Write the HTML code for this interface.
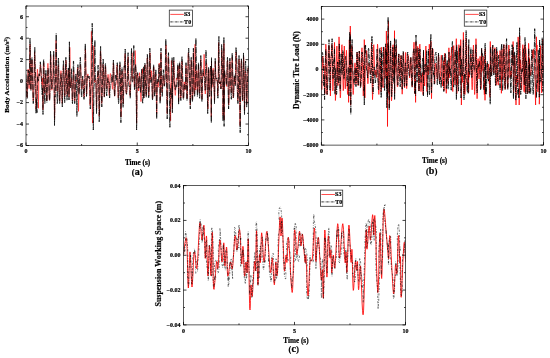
<!DOCTYPE html>
<html><head><meta charset="utf-8"><style>
html,body{margin:0;padding:0;background:#fff;}
svg{display:block;}
text{font-family:'Liberation Serif','Times New Roman',serif;font-weight:bold;fill:#000;}
</style></head><body>
<svg width="550" height="358" viewBox="0 0 550 358">
<rect width="550" height="358" fill="#fff"/>
<clipPath id="clipa"><rect x="26.0" y="6.0" width="222.5" height="139.5"/></clipPath>
<g clip-path="url(#clipa)" fill="none" stroke-linejoin="round">
<path d="M26.0 78.8 L26.1 82.1 L26.3 85.6 L26.4 89.0 L26.6 91.9 L26.7 94.3 L26.8 96.5 L27.0 97.4 L27.1 97.1 L27.3 95.6 L27.4 90.6 L27.5 85.0 L27.7 79.4 L27.8 74.1 L27.9 70.7 L28.1 69.2 L28.2 69.4 L28.4 71.5 L28.5 75.0 L28.6 79.4 L28.8 83.8 L28.9 87.1 L29.1 88.6 L29.2 87.5 L29.3 83.9 L29.5 76.7 L29.6 64.8 L29.8 56.3 L29.9 50.0 L30.0 44.2 L30.2 50.7 L30.3 59.2 L30.5 68.8 L30.6 78.8 L30.7 86.2 L30.9 89.6 L31.0 87.5 L31.1 84.2 L31.3 80.2 L31.4 74.8 L31.6 69.2 L31.7 64.3 L31.8 61.1 L32.0 60.1 L32.1 61.6 L32.3 65.5 L32.4 71.2 L32.5 78.0 L32.7 84.9 L32.8 91.1 L33.0 96.1 L33.1 99.5 L33.2 100.9 L33.4 100.4 L33.5 98.1 L33.7 94.5 L33.8 90.1 L33.9 85.4 L34.1 79.9 L34.2 71.0 L34.3 62.2 L34.5 56.2 L34.6 52.0 L34.8 57.1 L34.9 63.1 L35.0 69.3 L35.2 75.6 L35.3 78.8 L35.5 82.1 L35.6 88.3 L35.7 95.2 L35.9 102.1 L36.0 109.0 L36.2 106.8 L36.3 103.8 L36.4 99.4 L36.6 93.2 L36.7 88.5 L36.9 83.9 L37.0 78.8 L37.1 74.1 L37.3 70.7 L37.4 69.2 L37.5 69.9 L37.7 72.3 L37.8 77.5 L38.0 86.8 L38.1 95.3 L38.2 102.6 L38.4 108.3 L38.5 101.5 L38.7 93.8 L38.8 85.7 L38.9 77.9 L39.1 74.6 L39.2 73.9 L39.4 74.1 L39.5 74.8 L39.6 75.5 L39.8 75.3 L39.9 73.5 L40.1 70.9 L40.2 67.8 L40.3 64.5 L40.5 64.6 L40.6 65.2 L40.7 66.6 L40.9 69.1 L41.0 71.3 L41.2 73.8 L41.3 76.6 L41.4 79.4 L41.6 81.9 L41.7 83.6 L41.9 84.5 L42.0 84.6 L42.1 83.8 L42.3 82.3 L42.4 80.4 L42.6 78.1 L42.7 88.7 L42.8 99.2 L43.0 109.8 L43.1 94.7 L43.3 80.1 L43.4 66.2 L43.5 63.9 L43.7 62.7 L43.8 62.9 L44.0 69.4 L44.1 76.8 L44.2 84.5 L44.4 89.3 L44.5 92.9 L44.6 93.0 L44.8 92.5 L44.9 90.5 L45.1 87.1 L45.2 83.1 L45.3 78.9 L45.5 75.6 L45.6 74.2 L45.8 75.1 L45.9 78.4 L46.0 83.1 L46.2 88.3 L46.3 93.5 L46.5 97.8 L46.6 100.4 L46.7 100.9 L46.9 99.1 L47.0 95.2 L47.2 89.8 L47.3 83.6 L47.4 76.8 L47.6 70.5 L47.7 65.9 L47.8 63.5 L48.0 63.3 L48.1 65.3 L48.3 68.8 L48.4 73.5 L48.5 78.6 L48.7 83.4 L48.8 88.1 L49.0 92.7 L49.1 96.1 L49.2 98.6 L49.4 100.0 L49.5 100.3 L49.7 99.4 L49.8 97.2 L49.9 92.3 L50.1 83.3 L50.2 73.7 L50.4 64.1 L50.5 55.2 L50.6 56.5 L50.8 59.4 L50.9 64.3 L51.0 70.9 L51.2 75.7 L51.3 79.8 L51.5 83.9 L51.6 87.3 L51.7 89.4 L51.9 90.2 L52.0 89.5 L52.2 87.6 L52.3 84.9 L52.4 81.7 L52.6 78.4 L52.7 75.3 L52.9 72.6 L53.0 67.2 L53.1 62.5 L53.3 58.5 L53.4 55.2 L53.6 59.1 L53.7 63.8 L53.8 69.2 L54.0 75.1 L54.1 86.3 L54.2 97.6 L54.4 108.7 L54.5 119.3 L54.7 112.8 L54.8 105.4 L54.9 96.9 L55.1 87.3 L55.2 85.1 L55.4 82.3 L55.5 77.0 L55.6 66.8 L55.8 57.1 L55.9 48.2 L56.1 40.2 L56.2 48.1 L56.3 56.9 L56.5 66.5 L56.6 76.8 L56.8 82.4 L56.9 85.7 L57.0 88.6 L57.2 90.6 L57.3 91.3 L57.4 89.3 L57.6 86.6 L57.7 83.3 L57.9 78.9 L58.0 73.6 L58.1 68.9 L58.3 65.9 L58.4 65.1 L58.6 67.0 L58.7 71.4 L58.8 77.8 L59.0 84.5 L59.1 90.4 L59.3 95.6 L59.4 99.2 L59.5 100.9 L59.7 100.7 L59.8 98.7 L60.0 95.4 L60.1 91.2 L60.2 86.6 L60.4 82.2 L60.5 77.8 L60.6 74.1 L60.8 71.7 L60.9 70.7 L61.1 71.1 L61.2 72.7 L61.3 75.2 L61.5 78.4 L61.6 82.6 L61.8 88.5 L61.9 94.6 L62.0 99.5 L62.2 103.4 L62.3 100.5 L62.5 96.5 L62.6 91.4 L62.7 85.4 L62.9 80.7 L63.0 76.6 L63.2 72.6 L63.3 69.1 L63.4 66.5 L63.6 65.3 L63.7 68.1 L63.8 71.8 L64.0 74.7 L64.1 77.8 L64.3 81.7 L64.4 87.5 L64.5 92.5 L64.7 95.7 L64.8 96.6 L65.0 94.5 L65.1 89.6 L65.2 82.1 L65.4 76.1 L65.5 70.3 L65.7 65.2 L65.8 61.6 L65.9 60.1 L66.1 61.0 L66.2 64.1 L66.4 68.8 L66.5 74.5 L66.6 80.1 L66.8 87.2 L66.9 92.4 L67.0 94.5 L67.2 93.6 L67.3 90.0 L67.5 84.8 L67.6 79.6 L67.7 76.2 L67.9 73.6 L68.0 72.0 L68.2 70.6 L68.3 69.9 L68.4 73.7 L68.6 78.1 L68.7 85.6 L68.9 92.2 L69.0 97.3 L69.1 94.6 L69.3 90.5 L69.4 85.7 L69.6 72.3 L69.7 59.3 L69.8 47.3 L70.0 59.7 L70.1 73.0 L70.2 86.5 L70.4 87.1 L70.5 87.5 L70.7 87.4 L70.8 86.3 L70.9 84.4 L71.1 82.1 L71.2 79.7 L71.4 78.2 L71.5 78.2 L71.6 80.1 L71.8 83.4 L71.9 87.7 L72.1 92.4 L72.2 96.7 L72.3 99.8 L72.5 100.9 L72.6 99.9 L72.8 96.8 L72.9 91.9 L73.0 86.2 L73.2 80.5 L73.3 75.0 L73.4 71.3 L73.6 70.1 L73.7 71.4 L73.9 74.9 L74.0 79.9 L74.1 85.2 L74.3 90.3 L74.4 94.6 L74.6 98.7 L74.7 100.9 L74.8 100.9 L75.0 99.2 L75.1 96.3 L75.3 92.6 L75.4 88.8 L75.5 85.3 L75.7 82.5 L75.8 80.7 L76.0 79.9 L76.1 79.9 L76.2 80.5 L76.4 81.1 L76.5 81.4 L76.7 81.1 L76.8 79.8 L76.9 77.8 L77.1 75.3 L77.2 72.5 L77.3 70.0 L77.5 68.2 L77.6 67.4 L77.8 67.7 L77.9 71.3 L78.0 80.7 L78.2 90.7 L78.3 101.1 L78.5 111.4 L78.6 107.6 L78.7 102.9 L78.9 97.3 L79.0 90.6 L79.2 87.5 L79.3 85.6 L79.4 82.9 L79.6 79.6 L79.7 76.0 L79.9 72.5 L80.0 69.3 L80.1 66.7 L80.3 65.1 L80.4 64.7 L80.5 65.5 L80.7 67.5 L80.8 70.6 L81.0 74.4 L81.1 78.4 L81.2 82.3 L81.4 85.6 L81.5 87.9 L81.7 89.1 L81.8 89.1 L81.9 88.2 L82.1 86.5 L82.2 84.4 L82.4 82.4 L82.5 80.7 L82.6 79.5 L82.8 79.0 L82.9 79.4 L83.1 80.8 L83.2 82.8 L83.3 85.4 L83.5 88.4 L83.6 91.5 L83.7 94.3 L83.9 96.3 L84.0 97.2 L84.2 96.8 L84.3 94.9 L84.4 91.7 L84.6 87.5 L84.7 82.8 L84.9 76.0 L85.0 66.9 L85.1 59.1 L85.3 53.0 L85.4 48.8 L85.6 53.2 L85.7 59.0 L85.8 65.8 L86.0 73.0 L86.1 78.5 L86.3 83.6 L86.4 88.1 L86.5 91.7 L86.7 94.2 L86.8 92.0 L86.9 88.8 L87.1 85.0 L87.2 80.8 L87.4 77.9 L87.5 76.0 L87.6 74.6 L87.8 73.9 L87.9 74.0 L88.1 74.6 L88.2 75.5 L88.3 76.3 L88.5 76.8 L88.6 77.0 L88.8 77.0 L88.9 77.0 L89.0 77.3 L89.2 78.2 L89.3 79.8 L89.5 82.1 L89.6 85.8 L89.7 91.7 L89.9 97.2 L90.0 101.7 L90.1 105.1 L90.3 100.7 L90.4 95.3 L90.6 89.4 L90.7 83.4 L90.8 80.2 L91.0 66.5 L91.1 53.8 L91.3 42.2 L91.4 31.4 L91.5 45.9 L91.7 60.3 L91.8 74.2 L92.0 87.4 L92.1 97.5 L92.2 106.7 L92.4 115.2 L92.5 123.1 L92.7 110.4 L92.8 97.7 L92.9 85.3 L93.1 73.6 L93.2 72.8 L93.3 70.4 L93.5 63.6 L93.6 57.3 L93.8 51.5 L93.9 45.7 L94.0 54.9 L94.2 63.7 L94.3 72.2 L94.5 80.1 L94.6 82.5 L94.7 82.2 L94.9 81.6 L95.0 81.0 L95.2 80.3 L95.3 79.9 L95.4 79.7 L95.6 79.9 L95.7 80.4 L95.9 81.2 L96.0 83.9 L96.1 90.5 L96.3 97.0 L96.4 103.2 L96.5 109.0 L96.7 103.1 L96.8 96.7 L97.0 89.8 L97.1 82.5 L97.2 78.9 L97.4 77.0 L97.5 75.0 L97.7 73.3 L97.8 71.9 L97.9 71.1 L98.1 71.1 L98.2 72.1 L98.4 75.0 L98.5 78.6 L98.6 83.3 L98.8 91.6 L98.9 100.2 L99.1 108.6 L99.2 116.1 L99.3 114.1 L99.5 109.8 L99.6 101.6 L99.7 92.0 L99.9 84.9 L100.0 77.9 L100.2 68.6 L100.3 60.5 L100.4 54.5 L100.6 51.2 L100.7 55.5 L100.9 62.5 L101.0 71.5 L101.1 81.6 L101.3 89.4 L101.4 96.1 L101.6 100.9 L101.7 103.4 L101.8 102.3 L102.0 99.1 L102.1 94.5 L102.3 89.1 L102.4 84.1 L102.5 79.4 L102.7 74.7 L102.8 68.1 L102.9 65.4 L103.1 64.4 L103.2 65.2 L103.4 67.6 L103.5 71.5 L103.6 76.5 L103.8 81.7 L103.9 85.9 L104.1 91.9 L104.2 95.6 L104.3 96.6 L104.5 95.2 L104.6 91.6 L104.8 86.4 L104.9 80.5 L105.0 74.7 L105.2 69.9 L105.3 66.9 L105.5 66.0 L105.6 67.3 L105.7 70.0 L105.9 73.9 L106.0 78.0 L106.2 81.7 L106.3 84.9 L106.4 87.1 L106.6 88.4 L106.7 88.8 L106.8 88.4 L107.0 87.3 L107.1 85.6 L107.3 83.6 L107.4 81.3 L107.5 79.1 L107.7 77.0 L107.8 75.5 L108.0 74.5 L108.1 74.4 L108.2 75.0 L108.4 76.3 L108.5 78.2 L108.7 81.0 L108.8 85.4 L108.9 89.5 L109.1 92.9 L109.2 95.6 L109.4 92.8 L109.5 89.1 L109.6 84.9 L109.8 80.4 L109.9 77.5 L110.0 75.5 L110.2 74.2 L110.3 73.5 L110.5 73.7 L110.6 74.5 L110.7 75.8 L110.9 77.3 L111.0 78.7 L111.2 79.7 L111.3 80.4 L111.4 80.8 L111.6 81.1 L111.7 81.6 L111.9 82.6 L112.0 84.0 L112.1 85.8 L112.3 87.6 L112.4 88.9 L112.6 89.3 L112.7 88.4 L112.8 85.4 L113.0 79.9 L113.1 73.7 L113.2 67.8 L113.4 62.9 L113.5 64.1 L113.7 67.2 L113.8 72.3 L113.9 78.9 L114.1 84.6 L114.2 89.5 L114.4 93.3 L114.5 95.6 L114.6 96.1 L114.8 95.0 L114.9 92.7 L115.1 90.0 L115.2 87.4 L115.3 85.4 L115.5 84.4 L115.6 84.2 L115.8 84.5 L115.9 84.7 L116.0 84.4 L116.2 83.1 L116.3 80.6 L116.4 77.4 L116.6 73.6 L116.7 69.8 L116.9 66.7 L117.0 64.9 L117.1 64.9 L117.3 66.7 L117.4 70.4 L117.6 75.4 L117.7 81.1 L117.8 87.4 L118.0 92.7 L118.1 96.4 L118.3 98.1 L118.4 97.9 L118.5 95.9 L118.7 92.6 L118.8 88.7 L119.0 84.5 L119.1 80.8 L119.2 77.0 L119.4 72.8 L119.5 69.3 L119.6 66.6 L119.8 64.5 L119.9 66.4 L120.1 69.0 L120.2 72.1 L120.3 76.0 L120.5 81.2 L120.6 90.8 L120.8 100.3 L120.9 109.2 L121.0 116.9 L121.2 109.4 L121.3 101.4 L121.5 92.6 L121.6 82.9 L121.7 76.7 L121.9 73.2 L122.0 71.1 L122.2 71.1 L122.3 73.4 L122.4 77.7 L122.6 83.1 L122.7 88.6 L122.8 94.2 L123.0 99.0 L123.1 102.2 L123.3 103.6 L123.4 101.8 L123.5 98.1 L123.7 92.9 L123.8 86.8 L124.0 80.8 L124.1 74.1 L124.2 68.6 L124.4 64.9 L124.5 63.3 L124.7 62.0 L124.8 58.4 L124.9 56.2 L125.1 54.7 L125.2 53.5 L125.4 62.9 L125.5 71.4 L125.6 79.4 L125.8 87.2 L125.9 90.5 L126.0 91.8 L126.2 92.8 L126.3 93.4 L126.5 93.4 L126.6 92.6 L126.7 91.1 L126.9 88.7 L127.0 85.9 L127.2 83.0 L127.3 79.5 L127.4 74.0 L127.6 69.1 L127.7 63.6 L127.9 60.0 L128.0 57.9 L128.1 56.7 L128.3 62.9 L128.4 68.9 L128.6 74.2 L128.7 78.9 L128.8 80.5 L129.0 80.6 L129.1 80.7 L129.2 80.8 L129.4 81.2 L129.5 82.5 L129.7 86.0 L129.8 89.4 L129.9 92.7 L130.1 95.8 L130.2 92.7 L130.4 89.6 L130.5 86.3 L130.6 82.9 L130.8 81.5 L130.9 80.8 L131.1 80.0 L131.2 79.0 L131.3 77.8 L131.5 75.1 L131.6 69.1 L131.8 63.3 L131.9 57.8 L132.0 52.8 L132.2 57.8 L132.3 63.3 L132.4 69.0 L132.6 74.9 L132.7 77.4 L132.9 78.0 L133.0 78.2 L133.1 77.9 L133.3 77.3 L133.4 76.7 L133.6 76.5 L133.7 76.8 L133.8 78.0 L134.0 80.0 L134.1 82.4 L134.3 85.0 L134.4 87.0 L134.5 86.0 L134.7 79.1 L134.8 70.7 L135.0 61.0 L135.1 50.5 L135.2 52.5 L135.4 55.3 L135.5 59.5 L135.6 65.3 L135.8 68.6 L135.9 71.3 L136.1 74.8 L136.2 78.4 L136.3 94.5 L136.5 109.6 L136.6 123.1 L136.8 109.0 L136.9 93.5 L137.0 77.6 L137.2 75.4 L137.3 74.0 L137.5 73.9 L137.6 75.1 L137.7 76.0 L137.9 77.5 L138.0 79.5 L138.2 82.0 L138.3 86.4 L138.4 89.6 L138.6 91.0 L138.7 90.3 L138.9 87.3 L139.0 82.6 L139.1 79.1 L139.3 76.4 L139.4 74.1 L139.5 72.8 L139.7 72.7 L139.8 74.0 L140.0 76.4 L140.1 79.5 L140.2 84.6 L140.4 90.2 L140.5 94.2 L140.7 97.2 L140.8 100.5 L140.9 101.6 L141.1 101.1 L141.2 99.7 L141.4 91.5 L141.5 84.9 L141.6 78.6 L141.8 72.7 L141.9 70.5 L142.1 70.4 L142.2 71.4 L142.3 73.4 L142.5 71.4 L142.6 69.8 L142.7 69.0 L142.9 68.4 L143.0 76.6 L143.2 83.6 L143.3 89.5 L143.4 94.3 L143.6 96.4 L143.7 97.7 L143.9 96.5 L144.0 95.8 L144.1 90.8 L144.3 85.5 L144.4 79.4 L144.6 72.9 L144.7 69.4 L144.8 66.5 L145.0 64.8 L145.1 64.9 L145.3 70.0 L145.4 75.3 L145.5 80.1 L145.7 84.4 L145.8 88.4 L145.9 92.0 L146.1 94.4 L146.2 95.3 L146.4 94.5 L146.5 92.0 L146.6 87.8 L146.8 82.0 L146.9 74.7 L147.1 66.6 L147.2 59.8 L147.3 57.5 L147.5 57.4 L147.6 59.8 L147.8 64.2 L147.9 69.5 L148.0 75.5 L148.2 81.5 L148.3 85.7 L148.5 91.1 L148.6 94.3 L148.7 95.8 L148.9 95.6 L149.0 93.9 L149.1 90.9 L149.3 87.3 L149.4 82.2 L149.6 74.4 L149.7 66.2 L149.8 57.7 L150.0 52.8 L150.1 57.9 L150.3 64.3 L150.4 71.0 L150.5 77.4 L150.7 79.8 L150.8 79.4 L151.0 77.8 L151.1 75.3 L151.2 72.7 L151.4 70.9 L151.5 70.7 L151.7 73.2 L151.8 77.7 L151.9 82.4 L152.1 86.6 L152.2 91.0 L152.3 94.8 L152.5 97.3 L152.6 98.4 L152.8 97.1 L152.9 93.5 L153.0 88.0 L153.2 81.2 L153.3 75.0 L153.5 70.3 L153.6 67.7 L153.7 66.8 L153.9 68.4 L154.0 71.6 L154.2 76.0 L154.3 80.5 L154.4 85.1 L154.6 88.2 L154.7 90.5 L154.9 92.2 L155.0 89.1 L155.1 84.6 L155.3 80.2 L155.4 77.6 L155.5 75.8 L155.7 75.0 L155.8 74.7 L156.0 74.3 L156.1 78.5 L156.2 88.2 L156.4 97.6 L156.5 106.2 L156.7 113.7 L156.8 107.1 L156.9 99.8 L157.1 92.1 L157.2 84.4 L157.4 81.7 L157.5 81.7 L157.6 82.6 L157.8 84.0 L157.9 85.6 L158.1 86.9 L158.2 87.3 L158.3 86.1 L158.5 82.6 L158.6 77.9 L158.7 72.5 L158.9 66.8 L159.0 64.4 L159.2 63.2 L159.3 63.5 L159.4 65.3 L159.6 67.7 L159.7 70.4 L159.9 73.5 L160.0 80.5 L160.1 91.0 L160.3 100.4 L160.4 91.2 L160.6 81.2 L160.7 71.2 L160.8 61.7 L161.0 52.8 L161.1 61.1 L161.3 70.6 L161.4 77.3 L161.5 80.7 L161.7 84.5 L161.8 88.0 L161.9 90.8 L162.1 92.4 L162.2 92.4 L162.4 91.0 L162.5 88.4 L162.6 85.0 L162.8 81.5 L162.9 78.4 L163.1 76.2 L163.2 75.4 L163.3 75.8 L163.5 77.4 L163.6 79.7 L163.8 82.1 L163.9 84.1 L164.0 85.4 L164.2 85.8 L164.3 85.3 L164.5 84.2 L164.6 82.8 L164.7 81.3 L164.9 80.1 L165.0 79.2 L165.1 78.4 L165.3 77.7 L165.4 74.8 L165.6 67.2 L165.7 59.6 L165.8 52.0 L166.0 44.9 L166.1 51.4 L166.3 59.0 L166.4 67.8 L166.5 77.6 L166.7 83.5 L166.8 92.7 L167.0 101.1 L167.1 108.2 L167.2 113.7 L167.4 106.6 L167.5 98.0 L167.7 88.4 L167.8 78.3 L167.9 71.0 L168.1 64.8 L168.2 59.9 L168.3 56.7 L168.5 60.7 L168.6 65.7 L168.8 71.4 L168.9 77.1 L169.0 79.5 L169.2 81.2 L169.3 82.2 L169.5 82.6 L169.6 82.7 L169.7 82.8 L169.9 83.1 L170.0 83.8 L170.2 84.7 L170.3 97.1 L170.4 109.2 L170.6 120.8 L170.7 109.0 L170.9 96.6 L171.0 83.9 L171.1 75.4 L171.3 67.5 L171.4 60.6 L171.6 69.8 L171.7 79.9 L171.8 90.7 L172.0 95.4 L172.1 100.9 L172.2 105.3 L172.4 108.3 L172.5 104.7 L172.7 99.8 L172.8 94.2 L172.9 89.4 L173.1 86.2 L173.2 82.1 L173.4 75.7 L173.5 70.1 L173.6 65.1 L173.8 60.6 L173.9 65.5 L174.1 70.7 L174.2 76.1 L174.3 81.9 L174.5 84.9 L174.6 86.9 L174.8 89.2 L174.9 91.5 L175.0 93.6 L175.2 95.0 L175.3 95.4 L175.4 94.7 L175.6 92.9 L175.7 90.2 L175.9 87.0 L176.0 83.8 L176.1 81.1 L176.3 79.1 L176.4 78.2 L176.6 78.2 L176.7 78.7 L176.8 79.3 L177.0 79.5 L177.1 78.9 L177.3 78.2 L177.4 77.4 L177.5 76.3 L177.7 73.3 L177.8 69.3 L178.0 66.0 L178.1 69.9 L178.2 74.3 L178.4 81.9 L178.5 92.0 L178.6 101.2 L178.8 91.3 L178.9 80.1 L179.1 72.5 L179.2 69.0 L179.3 66.0 L179.5 64.3 L179.6 64.5 L179.8 66.9 L179.9 71.4 L180.0 77.5 L180.2 84.1 L180.3 90.0 L180.5 94.7 L180.6 97.6 L180.7 98.4 L180.9 97.1 L181.0 94.0 L181.2 89.6 L181.3 84.3 L181.4 78.3 L181.6 71.9 L181.7 65.0 L181.8 61.4 L182.0 61.2 L182.1 63.2 L182.3 67.1 L182.4 72.5 L182.5 78.4 L182.7 83.3 L182.8 87.4 L183.0 92.4 L183.1 95.3 L183.2 97.5 L183.4 98.1 L183.5 97.4 L183.7 95.8 L183.8 91.6 L183.9 87.6 L184.1 84.3 L184.2 82.0 L184.4 81.8 L184.5 82.9 L184.6 84.9 L184.8 87.2 L184.9 89.1 L185.0 90.1 L185.2 89.7 L185.3 88.0 L185.5 84.8 L185.6 79.1 L185.7 72.3 L185.9 66.8 L186.0 65.3 L186.2 69.4 L186.3 73.6 L186.4 78.0 L186.6 84.2 L186.7 90.3 L186.9 95.0 L187.0 98.0 L187.1 98.5 L187.3 96.4 L187.4 91.9 L187.6 85.7 L187.7 79.0 L187.8 72.5 L188.0 65.6 L188.1 59.9 L188.2 55.6 L188.4 52.8 L188.5 54.8 L188.7 58.0 L188.8 62.0 L188.9 66.5 L189.1 70.0 L189.2 72.9 L189.4 75.6 L189.5 78.1 L189.6 80.1 L189.8 83.8 L189.9 90.7 L190.1 96.7 L190.2 101.6 L190.3 105.1 L190.5 97.0 L190.6 87.6 L190.8 77.8 L190.9 68.1 L191.0 62.7 L191.2 60.5 L191.3 60.1 L191.4 62.1 L191.6 66.1 L191.7 72.0 L191.9 78.7 L192.0 86.5 L192.1 93.4 L192.3 97.8 L192.4 99.5 L192.6 98.5 L192.7 95.4 L192.8 91.0 L193.0 86.5 L193.1 73.7 L193.3 62.4 L193.4 52.8 L193.5 63.2 L193.7 74.8 L193.8 87.0 L194.0 90.2 L194.1 92.8 L194.2 94.2 L194.4 93.9 L194.5 93.1 L194.6 91.5 L194.8 75.4 L194.9 59.5 L195.1 44.2 L195.2 58.9 L195.3 74.1 L195.5 89.6 L195.6 90.1 L195.8 89.8 L195.9 88.5 L196.0 86.0 L196.2 82.7 L196.3 78.3 L196.5 73.9 L196.6 71.2 L196.7 70.6 L196.9 72.5 L197.0 76.3 L197.2 81.3 L197.3 86.4 L197.4 90.4 L197.6 92.5 L197.7 92.2 L197.8 89.2 L198.0 83.5 L198.1 76.9 L198.3 70.5 L198.4 65.3 L198.5 67.3 L198.7 70.3 L198.8 73.7 L199.0 77.8 L199.1 81.8 L199.2 86.7 L199.4 90.7 L199.5 93.0 L199.7 93.1 L199.8 90.9 L199.9 86.5 L200.1 80.7 L200.2 75.4 L200.4 69.7 L200.5 64.6 L200.6 60.9 L200.8 59.1 L200.9 60.2 L201.1 63.4 L201.2 68.4 L201.3 74.5 L201.5 80.9 L201.6 88.2 L201.7 94.0 L201.9 97.6 L202.0 98.9 L202.2 95.2 L202.3 90.0 L202.4 84.3 L202.6 79.2 L202.7 76.0 L202.9 74.1 L203.0 72.7 L203.1 73.3 L203.3 74.5 L203.4 75.7 L203.6 75.1 L203.7 70.5 L203.8 65.3 L204.0 59.7 L204.1 54.3 L204.3 59.1 L204.4 64.9 L204.5 71.9 L204.7 80.0 L204.8 85.5 L204.9 89.3 L205.1 92.4 L205.2 94.0 L205.4 93.9 L205.5 92.0 L205.6 88.4 L205.8 83.6 L205.9 78.2 L206.1 72.9 L206.2 68.3 L206.3 64.9 L206.5 63.2 L206.6 63.5 L206.8 65.8 L206.9 69.9 L207.0 75.4 L207.2 81.7 L207.3 88.0 L207.5 93.6 L207.6 100.7 L207.7 105.9 L207.9 109.0 L208.0 104.7 L208.1 99.0 L208.3 92.8 L208.4 84.0 L208.6 76.0 L208.7 69.2 L208.8 74.9 L209.0 81.5 L209.1 88.5 L209.3 89.7 L209.4 90.2 L209.5 89.6 L209.7 87.6 L209.8 84.6 L210.0 80.7 L210.1 76.7 L210.2 72.9 L210.4 69.9 L210.5 68.1 L210.7 67.4 L210.8 67.9 L210.9 69.4 L211.1 71.7 L211.2 74.8 L211.3 116.9 L211.5 61.0 L211.6 83.0 L211.8 85.5 L211.9 87.0 L212.0 87.3 L212.2 86.4 L212.3 84.2 L212.5 80.9 L212.6 77.0 L212.7 73.2 L212.9 70.1 L213.0 68.4 L213.2 68.3 L213.3 70.0 L213.4 73.2 L213.6 77.2 L213.7 81.5 L213.9 85.4 L214.0 88.3 L214.1 89.8 L214.3 94.5 L214.4 98.0 L214.5 100.4 L214.7 93.1 L214.8 85.5 L215.0 78.3 L215.1 71.8 L215.2 66.2 L215.4 61.4 L215.5 66.0 L215.7 71.2 L215.8 76.8 L215.9 78.2 L216.1 79.4 L216.2 80.3 L216.4 80.8 L216.5 80.9 L216.6 80.8 L216.8 80.7 L216.9 80.6 L217.1 80.6 L217.2 80.9 L217.3 81.3 L217.5 86.3 L217.6 91.2 L217.7 95.8 L217.9 90.9 L218.0 85.7 L218.2 80.2 L218.3 67.5 L218.4 54.9 L218.6 42.6 L218.7 54.6 L218.9 67.1 L219.0 79.9 L219.1 81.1 L219.3 82.3 L219.4 83.1 L219.6 83.4 L219.7 83.2 L219.8 82.7 L220.0 82.0 L220.1 81.4 L220.3 81.3 L220.4 81.9 L220.5 83.2 L220.7 85.1 L220.8 87.1 L220.9 88.9 L221.1 87.6 L221.2 80.3 L221.4 71.5 L221.5 61.1 L221.6 49.6 L221.8 51.4 L221.9 53.4 L222.1 56.3 L222.2 61.0 L222.3 63.0 L222.5 65.3 L222.6 69.7 L222.8 84.7 L222.9 100.3 L223.0 115.4 L223.2 111.0 L223.3 104.5 L223.5 95.5 L223.6 93.4 L223.7 89.0 L223.9 43.4 L224.0 79.6 L224.1 120.0 L224.3 73.0 L224.4 71.2 L224.6 71.2 L224.7 72.1 L224.8 73.3 L225.0 74.4 L225.1 74.9 L225.3 75.0 L225.4 75.4 L225.5 75.9 L225.7 76.3 L225.8 77.5 L226.0 79.4 L226.1 81.8 L226.2 84.5 L226.4 86.2 L226.5 86.4 L226.7 84.4 L226.8 80.4 L226.9 75.8 L227.1 70.5 L227.2 65.6 L227.3 61.9 L227.5 60.1 L227.6 60.8 L227.8 63.7 L227.9 68.4 L228.0 74.2 L228.2 80.8 L228.3 89.5 L228.5 96.7 L228.6 101.9 L228.7 105.1 L228.9 101.3 L229.0 96.4 L229.2 90.8 L229.3 85.1 L229.4 80.5 L229.6 75.6 L229.7 70.4 L229.9 65.5 L230.0 61.4 L230.1 63.6 L230.3 66.6 L230.4 70.7 L230.5 75.8 L230.7 79.9 L230.8 83.7 L231.0 87.5 L231.1 90.6 L231.2 92.4 L231.4 92.4 L231.5 90.5 L231.7 84.7 L231.8 75.7 L231.9 66.3 L232.1 57.4 L232.2 58.4 L232.4 61.4 L232.5 66.9 L232.6 73.3 L232.8 80.1 L232.9 87.3 L233.1 94.2 L233.2 97.1 L233.3 97.7 L233.5 96.1 L233.6 93.1 L233.8 89.6 L233.9 85.4 L234.0 81.5 L234.2 78.7 L234.3 77.3 L234.4 77.5 L234.6 78.9 L234.7 80.9 L234.9 82.9 L235.0 84.3 L235.1 84.4 L235.3 83.3 L235.4 79.8 L235.6 73.1 L235.7 65.9 L235.8 58.7 L236.0 52.0 L236.1 52.9 L236.3 54.9 L236.4 58.3 L236.5 63.2 L236.7 67.2 L236.8 71.4 L237.0 76.6 L237.1 82.2 L237.2 87.7 L237.4 92.7 L237.5 96.8 L237.6 99.6 L237.8 100.9 L237.9 100.7 L238.1 99.1 L238.2 96.4 L238.3 93.2 L238.5 89.9 L238.6 83.5 L238.8 74.3 L238.9 66.1 L239.0 59.1 L239.2 67.0 L239.3 75.8 L239.5 85.1 L239.6 95.2 L239.7 105.6 L239.9 115.7 L240.0 125.5 L240.2 116.6 L240.3 106.5 L240.4 94.7 L240.6 85.5 L240.7 80.9 L240.8 75.0 L241.0 69.3 L241.1 64.5 L241.3 61.3 L241.4 60.4 L241.5 62.0 L241.7 66.1 L241.8 72.5 L242.0 80.2 L242.1 87.3 L242.2 93.6 L242.4 98.4 L242.5 100.9 L242.7 100.9 L242.8 98.5 L242.9 94.2 L243.1 88.8 L243.2 81.0 L243.4 71.4 L243.5 63.0 L243.6 56.7 L243.8 61.0 L243.9 67.1 L244.0 74.4 L244.2 83.5 L244.3 93.4 L244.5 102.3 L244.6 109.8 L244.7 101.6 L244.9 91.8 L245.0 81.4 L245.2 74.8 L245.3 72.4 L245.4 71.1 L245.6 71.0 L245.7 71.9 L245.9 73.6 L246.0 75.7 L246.1 77.9 L246.3 81.2 L246.4 87.5 L246.6 93.2 L246.7 98.6 L246.8 103.6 L247.0 98.8 L247.1 93.6 L247.2 88.1 L247.4 82.1 L247.5 79.2 L247.7 77.0 L247.8 74.0 L247.9 71.3 L248.1 69.1 L248.2 67.7 L248.4 69.9 L248.5 73.0" stroke="#ff0000" stroke-width="0.6"/>
<path d="M26.0 74.4 L26.1 78.4 L26.3 82.6 L26.4 86.3 L26.6 90.0 L26.7 93.4 L26.8 96.4 L27.0 98.2 L27.1 98.8 L27.3 98.0 L27.4 94.7 L27.5 90.6 L27.7 85.9 L27.8 81.1 L27.9 75.7 L28.1 71.9 L28.2 70.0 L28.4 70.2 L28.5 72.4 L28.6 76.1 L28.8 80.2 L28.9 83.1 L29.1 84.6 L29.2 84.6 L29.3 82.1 L29.5 74.9 L29.6 62.2 L29.8 52.2 L29.9 44.9 L30.0 38.2 L30.2 45.8 L30.3 55.6 L30.5 66.9 L30.6 78.5 L30.7 86.8 L30.9 90.5 L31.0 90.6 L31.1 85.8 L31.3 80.1 L31.4 73.8 L31.6 67.3 L31.7 61.8 L31.8 58.3 L32.0 57.3 L32.1 59.1 L32.3 63.3 L32.4 69.3 L32.5 76.4 L32.7 84.1 L32.8 91.8 L33.0 97.9 L33.1 101.9 L33.2 103.6 L33.4 103.2 L33.5 101.0 L33.7 97.4 L33.8 93.1 L33.9 88.6 L34.1 84.7 L34.2 79.4 L34.3 70.1 L34.5 61.8 L34.6 54.4 L34.8 47.3 L34.9 53.6 L35.0 59.5 L35.2 65.1 L35.3 70.6 L35.5 71.9 L35.6 76.8 L35.7 87.6 L35.9 100.0 L36.0 113.6 L36.2 109.2 L36.3 104.5 L36.4 98.6 L36.6 99.0 L36.7 105.4 L36.9 109.7 L37.0 112.7 L37.1 101.3 L37.3 90.3 L37.4 80.6 L37.5 75.9 L37.7 76.2 L37.8 77.5 L38.0 79.2 L38.1 80.6 L38.2 81.1 L38.4 80.7 L38.5 79.5 L38.7 77.7 L38.8 75.9 L38.9 74.5 L39.1 73.8 L39.2 73.7 L39.4 74.3 L39.5 75.1 L39.6 75.9 L39.8 75.6 L39.9 72.9 L40.1 69.6 L40.2 65.9 L40.3 61.8 L40.5 63.1 L40.6 64.4 L40.7 66.1 L40.9 68.5 L41.0 69.8 L41.2 72.2 L41.3 76.0 L41.4 78.8 L41.6 81.7 L41.7 86.1 L41.9 90.2 L42.0 93.2 L42.1 94.8 L42.3 94.5 L42.4 92.3 L42.6 88.0 L42.7 96.0 L42.8 105.1 L43.0 114.5 L43.1 96.5 L43.3 79.2 L43.4 62.9 L43.5 60.3 L43.7 59.3 L43.8 60.0 L44.0 65.6 L44.1 72.4 L44.2 79.8 L44.4 88.2 L44.5 95.9 L44.6 101.3 L44.8 103.6 L44.9 102.8 L45.1 99.0 L45.2 93.1 L45.3 86.0 L45.5 79.8 L45.6 75.8 L45.8 72.3 L45.9 70.2 L46.0 72.8 L46.2 77.7 L46.3 84.1 L46.5 90.7 L46.6 96.5 L46.7 100.4 L46.9 102.3 L47.0 101.0 L47.2 97.3 L47.3 91.7 L47.4 85.3 L47.6 79.0 L47.7 73.6 L47.8 69.9 L48.0 68.1 L48.1 68.1 L48.3 69.7 L48.4 72.3 L48.5 75.7 L48.7 79.4 L48.8 83.3 L49.0 87.2 L49.1 91.0 L49.2 94.6 L49.4 97.7 L49.5 99.8 L49.7 100.4 L49.8 99.2 L49.9 94.5 L50.1 84.6 L50.2 73.4 L50.4 61.9 L50.5 51.0 L50.6 51.8 L50.8 54.8 L50.9 60.1 L51.0 67.6 L51.2 73.1 L51.3 77.8 L51.5 82.2 L51.6 85.8 L51.7 88.1 L51.9 88.8 L52.0 88.2 L52.2 86.8 L52.3 84.9 L52.4 83.0 L52.6 81.5 L52.7 80.4 L52.9 79.7 L53.0 79.0 L53.1 78.3 L53.3 77.1 L53.4 68.6 L53.6 59.8 L53.7 51.0 L53.8 56.4 L54.0 62.8 L54.1 70.6 L54.2 87.5 L54.4 106.0 L54.5 125.5 L54.7 116.3 L54.8 106.7 L54.9 95.7 L55.1 97.1 L55.2 95.9 L55.4 91.8 L55.5 86.1 L55.6 77.1 L55.8 63.8 L55.9 51.5 L56.1 41.1 L56.2 33.6 L56.3 40.9 L56.5 51.1 L56.6 63.8 L56.8 78.0 L56.9 88.3 L57.0 95.8 L57.2 101.2 L57.3 103.6 L57.4 102.7 L57.6 96.8 L57.7 90.5 L57.9 82.5 L58.0 73.5 L58.1 65.4 L58.3 60.0 L58.4 58.0 L58.6 59.9 L58.7 65.3 L58.8 73.3 L59.0 82.3 L59.1 90.3 L59.3 97.0 L59.4 101.5 L59.5 103.6 L59.7 103.4 L59.8 101.2 L60.0 97.8 L60.1 93.7 L60.2 89.4 L60.4 85.5 L60.5 81.9 L60.6 78.7 L60.8 76.1 L60.9 74.4 L61.1 73.6 L61.2 73.8 L61.3 75.2 L61.5 77.6 L61.6 80.9 L61.8 85.7 L61.9 92.5 L62.0 98.7 L62.2 103.7 L62.3 107.0 L62.5 102.1 L62.6 95.5 L62.7 87.5 L62.9 78.7 L63.0 72.0 L63.2 66.8 L63.3 62.8 L63.4 60.7 L63.6 63.1 L63.7 69.1 L63.8 73.3 L64.0 77.0 L64.1 81.4 L64.3 89.1 L64.4 95.8 L64.5 100.6 L64.7 102.6 L64.8 101.1 L65.0 96.0 L65.1 87.9 L65.2 78.9 L65.4 72.2 L65.5 65.9 L65.7 60.9 L65.8 57.9 L65.9 57.3 L66.1 59.3 L66.2 63.4 L66.4 69.1 L66.5 75.5 L66.6 82.0 L66.8 90.7 L66.9 97.3 L67.0 100.2 L67.2 99.9 L67.3 96.8 L67.5 91.9 L67.6 86.0 L67.7 80.5 L67.9 77.4 L68.0 74.6 L68.2 71.4 L68.3 68.0 L68.4 69.0 L68.6 71.0 L68.7 73.2 L68.9 83.0 L69.0 100.0 L69.1 84.6 L69.3 65.0 L69.4 41.8 L69.6 65.0 L69.7 77.7 L69.8 80.0 L70.0 83.4 L70.1 87.1 L70.2 87.9 L70.4 88.3 L70.5 88.3 L70.7 87.2 L70.8 84.6 L70.9 81.2 L71.1 75.6 L71.2 71.0 L71.4 68.8 L71.5 69.8 L71.6 74.3 L71.8 81.5 L71.9 87.8 L72.1 94.3 L72.2 99.7 L72.3 103.0 L72.5 103.6 L72.6 101.3 L72.8 96.4 L72.9 89.7 L73.0 82.3 L73.2 72.9 L73.3 65.3 L73.4 61.2 L73.6 61.1 L73.7 64.7 L73.9 71.5 L74.0 80.0 L74.1 86.5 L74.3 92.2 L74.4 96.7 L74.6 101.6 L74.7 103.6 L74.8 102.5 L75.0 99.4 L75.1 94.9 L75.3 89.7 L75.4 84.5 L75.5 79.7 L75.7 75.6 L75.8 73.6 L76.0 73.8 L76.1 75.9 L76.2 79.5 L76.4 84.9 L76.5 94.1 L76.7 102.3 L76.8 109.7 L76.9 116.4 L77.1 107.8 L77.2 97.4 L77.3 86.2 L77.5 74.9 L77.6 68.6 L77.8 65.6 L77.9 64.6 L78.0 65.7 L78.2 68.7 L78.3 73.3 L78.5 78.8 L78.6 84.3 L78.7 89.2 L78.9 92.8 L79.0 94.5 L79.2 94.1 L79.3 91.6 L79.4 87.2 L79.6 81.4 L79.7 74.9 L79.9 68.5 L80.0 63.0 L80.1 59.1 L80.3 57.3 L80.4 57.9 L80.5 60.9 L80.7 65.9 L80.8 72.3 L81.0 79.3 L81.1 86.0 L81.2 91.5 L81.4 95.4 L81.5 97.2 L81.7 96.8 L81.8 94.7 L81.9 91.3 L82.1 87.2 L82.2 83.2 L82.4 79.7 L82.5 77.3 L82.6 76.1 L82.8 76.3 L82.9 77.8 L83.1 80.5 L83.2 83.7 L83.3 87.3 L83.5 91.0 L83.6 94.4 L83.7 97.2 L83.9 99.0 L84.0 99.4 L84.2 98.4 L84.3 95.7 L84.4 91.6 L84.6 86.5 L84.7 79.7 L84.9 68.5 L85.0 58.3 L85.1 49.8 L85.3 43.6 L85.4 47.9 L85.6 54.4 L85.7 62.5 L85.8 71.3 L86.0 78.1 L86.1 84.3 L86.3 89.1 L86.4 93.7 L86.5 96.4 L86.7 93.3 L86.8 89.5 L86.9 85.2 L87.1 80.9 L87.2 78.3 L87.4 76.8 L87.5 75.8 L87.6 75.4 L87.8 75.5 L87.9 76.0 L88.1 76.8 L88.2 77.5 L88.3 77.9 L88.5 78.0 L88.6 77.6 L88.8 77.0 L88.9 76.3 L89.0 76.0 L89.2 76.3 L89.3 77.6 L89.5 79.7 L89.6 82.7 L89.7 87.1 L89.9 93.8 L90.0 99.9 L90.1 105.0 L90.3 109.0 L90.4 104.7 L90.6 99.7 L90.7 94.3 L90.8 88.9 L91.0 86.4 L91.1 85.3 L91.3 84.5 L91.4 83.9 L91.5 83.0 L91.7 81.8 L91.8 67.6 L92.0 53.0 L92.1 38.2 L92.2 23.3 L92.4 33.5 L92.5 44.4 L92.7 56.2 L92.8 69.2 L92.9 83.4 L93.1 98.5 L93.2 114.1 L93.3 130.0 L93.5 120.7 L93.6 110.6 L93.8 99.7 L93.9 87.5 L94.0 86.7 L94.2 84.9 L94.3 79.9 L94.5 69.2 L94.6 58.7 L94.7 48.9 L94.9 40.0 L95.0 48.4 L95.2 57.7 L95.3 67.5 L95.4 77.5 L95.6 81.9 L95.7 83.5 L95.9 84.7 L96.0 87.5 L96.1 94.3 L96.3 100.9 L96.4 107.3 L96.5 113.6 L96.7 107.4 L96.8 100.8 L97.0 93.8 L97.1 86.1 L97.2 81.8 L97.4 79.1 L97.5 75.8 L97.7 72.4 L97.8 69.1 L97.9 66.5 L98.1 65.1 L98.2 65.2 L98.4 70.7 L98.5 75.3 L98.6 80.6 L98.8 90.4 L98.9 101.3 L99.1 112.1 L99.2 121.8 L99.3 119.7 L99.5 115.0 L99.6 107.3 L99.7 94.5 L99.9 85.8 L100.0 77.0 L100.2 66.8 L100.3 57.7 L100.4 50.6 L100.6 46.4 L100.7 50.4 L100.9 57.3 L101.0 66.6 L101.1 77.1 L101.3 86.7 L101.4 95.3 L101.6 101.9 L101.7 105.8 L101.8 107.0 L102.0 104.1 L102.1 99.3 L102.3 93.2 L102.4 86.6 L102.5 80.7 L102.7 75.8 L102.8 69.7 L102.9 61.2 L103.1 59.0 L103.2 59.1 L103.4 61.5 L103.5 66.0 L103.6 72.0 L103.8 79.0 L103.9 84.1 L104.1 89.6 L104.2 95.7 L104.3 97.1 L104.5 95.6 L104.6 91.4 L104.8 85.2 L104.9 78.5 L105.0 72.8 L105.2 68.3 L105.3 64.1 L105.5 63.6 L105.6 65.6 L105.7 69.3 L105.9 74.1 L106.0 79.1 L106.2 84.5 L106.3 89.5 L106.4 93.2 L106.6 95.3 L106.7 95.9 L106.8 95.0 L107.0 92.9 L107.1 90.0 L107.3 86.7 L107.4 83.4 L107.5 80.7 L107.7 78.7 L107.8 77.8 L108.0 77.8 L108.1 78.6 L108.2 79.8 L108.4 81.0 L108.5 81.9 L108.7 82.3 L108.8 82.3 L108.9 81.9 L109.1 82.5 L109.2 85.8 L109.4 89.5 L109.5 93.6 L109.6 98.0 L109.8 95.4 L109.9 92.8 L110.0 90.0 L110.2 86.9 L110.3 85.8 L110.5 85.7 L110.6 85.2 L110.7 84.7 L110.9 83.9 L111.0 82.9 L111.2 81.6 L111.3 80.1 L111.4 78.4 L111.6 76.7 L111.7 75.4 L111.9 74.7 L112.0 74.8 L112.1 75.9 L112.3 77.6 L112.4 79.7 L112.6 81.4 L112.7 82.4 L112.8 81.3 L113.0 76.8 L113.1 71.4 L113.2 65.5 L113.4 60.0 L113.5 61.7 L113.7 65.0 L113.8 70.1 L113.9 77.0 L114.1 82.9 L114.2 88.1 L114.4 92.6 L114.5 95.6 L114.6 96.5 L114.8 95.1 L114.9 91.9 L115.1 87.3 L115.2 82.4 L115.3 78.6 L115.5 76.2 L115.6 75.1 L115.8 75.4 L115.9 76.6 L116.0 78.3 L116.2 79.7 L116.3 80.2 L116.4 79.5 L116.6 77.3 L116.7 74.0 L116.9 70.2 L117.0 66.5 L117.1 63.8 L117.3 62.7 L117.4 63.7 L117.6 66.8 L117.7 71.8 L117.8 77.9 L118.0 85.1 L118.1 92.2 L118.3 98.0 L118.4 101.9 L118.5 103.6 L118.7 103.1 L118.8 100.6 L119.0 96.5 L119.1 91.5 L119.2 86.1 L119.4 80.9 L119.5 74.9 L119.6 69.0 L119.8 64.6 L119.9 61.8 L120.1 64.0 L120.2 67.8 L120.3 72.9 L120.5 82.9 L120.6 96.8 L120.8 110.7 L120.9 122.7 L121.0 113.1 L121.2 102.8 L121.3 91.1 L121.5 82.7 L121.6 77.6 L121.7 72.4 L121.9 68.7 L122.0 67.5 L122.2 69.5 L122.3 74.4 L122.4 81.6 L122.6 88.4 L122.7 95.6 L122.8 101.6 L123.0 105.7 L123.1 107.3 L123.3 104.7 L123.4 100.0 L123.5 93.7 L123.7 86.8 L123.8 80.4 L124.0 73.7 L124.1 68.8 L124.2 66.2 L124.4 65.8 L124.5 67.5 L124.7 68.1 L124.8 63.9 L124.9 60.0 L125.1 55.0 L125.2 49.0 L125.4 59.3 L125.5 68.6 L125.6 77.7 L125.8 86.7 L125.9 90.2 L126.0 91.4 L126.2 92.7 L126.3 93.8 L126.5 94.3 L126.6 94.0 L126.7 92.7 L126.9 90.5 L127.0 87.6 L127.2 84.4 L127.3 81.2 L127.4 75.2 L127.6 69.0 L127.7 61.8 L127.9 56.9 L128.0 54.1 L128.1 52.7 L128.3 61.2 L128.4 69.7 L128.6 76.2 L128.7 82.1 L128.8 84.8 L129.0 86.4 L129.1 86.4 L129.2 86.1 L129.4 86.0 L129.5 86.4 L129.7 87.9 L129.8 90.8 L129.9 93.8 L130.1 96.3 L130.2 98.2 L130.4 95.7 L130.5 92.2 L130.6 87.7 L130.8 82.5 L130.9 76.6 L131.1 68.1 L131.2 60.3 L131.3 53.6 L131.5 48.2 L131.6 54.0 L131.8 60.7 L131.9 68.1 L132.0 75.7 L132.2 79.6 L132.3 81.3 L132.4 82.1 L132.6 82.0 L132.7 81.0 L132.9 79.4 L133.0 77.5 L133.1 75.4 L133.3 71.6 L133.4 63.5 L133.6 56.4 L133.7 50.4 L133.8 45.5 L134.0 55.5 L134.1 66.0 L134.3 76.5 L134.4 86.3 L134.5 89.9 L134.7 89.5 L134.8 87.2 L135.0 83.3 L135.1 78.2 L135.2 73.0 L135.4 68.4 L135.5 65.3 L135.6 64.3 L135.8 65.5 L135.9 68.5 L136.1 72.8 L136.2 88.4 L136.3 103.6 L136.5 117.6 L136.6 130.0 L136.8 118.8 L136.9 105.9 L137.0 91.7 L137.2 77.4 L137.3 74.8 L137.5 73.1 L137.6 72.6 L137.7 72.7 L137.9 73.9 L138.0 75.9 L138.2 77.7 L138.3 79.8 L138.4 83.1 L138.6 86.5 L138.7 88.2 L138.9 88.1 L139.0 86.2 L139.1 83.0 L139.3 79.9 L139.4 77.8 L139.5 76.2 L139.7 76.2 L139.8 77.2 L140.0 78.7 L140.1 80.8 L140.2 85.0 L140.4 89.0 L140.5 91.8 L140.7 92.7 L140.8 91.6 L140.9 88.6 L141.1 84.1 L141.2 79.6 L141.4 76.2 L141.5 73.1 L141.6 70.6 L141.8 69.2 L141.9 70.7 L142.1 77.2 L142.2 84.8 L142.3 93.4 L142.5 102.7 L142.6 103.1 L142.7 103.2 L142.9 102.1 L143.0 99.5 L143.2 98.9 L143.3 98.2 L143.4 96.2 L143.6 92.9 L143.7 66.4 L143.9 84.1 L144.0 98.2 L144.1 77.9 L144.3 74.2 L144.4 70.6 L144.6 67.4 L144.7 64.6 L144.8 63.0 L145.0 63.0 L145.1 68.2 L145.3 74.3 L145.4 78.8 L145.5 83.1 L145.7 87.5 L145.8 91.6 L145.9 95.0 L146.1 97.0 L146.2 97.2 L146.4 95.5 L146.5 92.0 L146.6 86.7 L146.8 79.8 L146.9 70.9 L147.1 62.8 L147.2 56.4 L147.3 54.4 L147.5 55.0 L147.6 58.3 L147.8 64.0 L147.9 70.5 L148.0 77.6 L148.2 83.7 L148.3 89.2 L148.5 95.3 L148.6 97.6 L148.7 97.8 L148.9 95.9 L149.0 92.3 L149.1 87.8 L149.3 81.8 L149.4 73.8 L149.6 66.1 L149.7 57.4 L149.8 48.2 L150.0 52.2 L150.1 58.2 L150.3 65.6 L150.4 73.5 L150.5 78.7 L150.7 81.4 L150.8 82.4 L151.0 82.4 L151.1 81.3 L151.2 79.4 L151.4 77.7 L151.5 77.1 L151.7 78.3 L151.8 81.3 L151.9 85.1 L152.1 89.6 L152.2 94.2 L152.3 98.0 L152.5 100.0 L152.6 100.0 L152.8 97.1 L152.9 91.5 L153.0 83.8 L153.2 76.1 L153.3 70.1 L153.5 66.1 L153.6 64.5 L153.7 65.5 L153.9 68.7 L154.0 73.6 L154.2 79.3 L154.3 86.2 L154.4 92.3 L154.6 96.0 L154.7 96.5 L154.9 94.0 L155.0 89.2 L155.1 83.1 L155.3 78.1 L155.4 74.5 L155.5 72.1 L155.7 70.9 L155.8 69.5 L156.0 71.2 L156.1 77.5 L156.2 89.2 L156.4 100.3 L156.5 110.4 L156.7 119.0 L156.8 111.7 L156.9 103.2 L157.1 94.1 L157.2 84.7 L157.4 80.7 L157.5 79.6 L157.6 79.3 L157.8 79.8 L157.9 80.7 L158.1 81.8 L158.2 82.5 L158.3 81.8 L158.5 78.5 L158.6 74.3 L158.7 69.5 L158.9 64.5 L159.0 64.8 L159.2 66.0 L159.3 68.3 L159.4 71.9 L159.6 74.7 L159.7 77.3 L159.9 87.0 L160.0 95.9 L160.1 103.6 L160.3 95.8 L160.4 86.8 L160.6 76.9 L160.7 66.6 L160.8 56.8 L161.0 48.2 L161.1 55.4 L161.3 64.4 L161.4 74.9 L161.5 79.5 L161.7 84.5 L161.8 89.3 L161.9 93.3 L162.1 95.7 L162.2 96.4 L162.4 95.1 L162.5 92.2 L162.6 88.0 L162.8 83.1 L162.9 78.2 L163.1 74.0 L163.2 71.0 L163.3 69.7 L163.5 70.1 L163.6 72.0 L163.8 74.9 L163.9 78.4 L164.0 81.7 L164.2 84.3 L164.3 85.9 L164.5 86.2 L164.6 85.3 L164.7 83.4 L164.9 80.7 L165.0 77.7 L165.1 74.6 L165.3 69.8 L165.4 61.0 L165.6 52.8 L165.7 45.4 L165.8 39.0 L166.0 46.2 L166.1 54.7 L166.3 64.4 L166.4 75.1 L166.5 82.3 L166.7 89.2 L166.8 98.7 L167.0 107.3 L167.1 114.2 L167.2 119.0 L167.4 112.6 L167.5 104.0 L167.7 93.8 L167.8 82.5 L167.9 73.7 L168.1 65.9 L168.2 59.5 L168.3 55.0 L168.5 52.7 L168.6 55.4 L168.8 60.0 L168.9 65.7 L169.0 72.0 L169.2 77.3 L169.3 84.3 L169.5 96.5 L169.6 107.7 L169.7 117.9 L169.9 127.3 L170.0 118.3 L170.2 109.1 L170.3 99.8 L170.4 90.7 L170.6 88.2 L170.7 88.8 L170.9 89.9 L171.0 91.3 L171.1 93.0 L171.3 94.8 L171.4 96.5 L171.6 97.7 L171.7 98.3 L171.8 98.2 L172.0 96.7 L172.1 57.3 L172.2 92.5 L172.4 112.7 L172.5 86.9 L172.7 84.0 L172.8 81.9 L172.9 80.6 L173.1 80.0 L173.2 78.3 L173.4 73.0 L173.5 67.9 L173.6 62.7 L173.8 57.3 L173.9 63.4 L174.1 69.3 L174.2 75.2 L174.3 81.4 L174.5 83.8 L174.6 84.9 L174.8 86.3 L174.9 87.8 L175.0 89.1 L175.2 89.9 L175.3 90.1 L175.4 89.6 L175.6 88.5 L175.7 87.1 L175.9 85.7 L176.0 84.7 L176.1 84.4 L176.3 84.8 L176.4 85.7 L176.6 86.6 L176.7 87.1 L176.8 86.4 L177.0 84.3 L177.1 80.8 L177.3 76.9 L177.4 72.7 L177.5 69.4 L177.7 66.3 L177.8 63.6 L178.0 66.1 L178.1 70.1 L178.2 75.1 L178.4 85.4 L178.5 95.6 L178.6 104.5 L178.8 97.1 L178.9 87.9 L179.1 77.3 L179.2 72.4 L179.3 67.5 L179.5 63.7 L179.6 61.9 L179.8 62.6 L179.9 66.0 L180.0 71.6 L180.2 78.9 L180.3 86.1 L180.5 92.6 L180.6 97.4 L180.7 100.2 L180.9 100.6 L181.0 98.8 L181.2 95.0 L181.3 89.2 L181.4 81.6 L181.6 73.3 L181.7 65.0 L181.8 58.2 L182.0 56.6 L182.1 57.2 L182.3 60.1 L182.4 65.0 L182.5 70.5 L182.7 76.5 L182.8 82.3 L183.0 87.5 L183.1 93.8 L183.2 97.5 L183.4 99.4 L183.5 99.5 L183.7 98.2 L183.8 94.7 L183.9 91.0 L184.1 87.7 L184.2 85.3 L184.4 84.4 L184.5 84.7 L184.6 85.9 L184.8 87.5 L184.9 88.7 L185.0 89.3 L185.2 88.6 L185.3 86.7 L185.5 83.0 L185.6 77.0 L185.7 70.5 L185.9 65.5 L186.0 62.7 L186.2 67.5 L186.3 74.0 L186.4 81.3 L186.6 89.3 L186.7 95.3 L186.9 99.0 L187.0 100.6 L187.1 99.7 L187.3 96.5 L187.4 91.3 L187.6 85.0 L187.7 78.5 L187.8 72.3 L188.0 67.2 L188.1 62.5 L188.2 57.5 L188.4 53.5 L188.5 50.5 L188.7 48.2 L188.8 51.0 L188.9 54.6 L189.1 59.8 L189.2 66.9 L189.4 71.2 L189.5 75.3 L189.6 79.5 L189.8 85.5 L189.9 94.3 L190.1 101.5 L190.2 106.4 L190.3 109.0 L190.5 99.1 L190.6 88.5 L190.8 77.4 L190.9 66.4 L191.0 60.1 L191.2 57.4 L191.3 57.3 L191.4 60.1 L191.6 65.5 L191.7 72.9 L191.9 81.2 L192.0 90.2 L192.1 97.2 L192.3 101.3 L192.4 102.0 L192.6 99.8 L192.7 95.4 L192.8 87.9 L193.0 75.9 L193.1 65.1 L193.3 55.9 L193.4 48.2 L193.5 56.1 L193.7 66.3 L193.8 76.0 L194.0 85.5 L194.1 90.2 L194.2 92.4 L194.4 93.4 L194.5 94.3 L194.6 96.4 L194.8 93.9 L194.9 91.2 L195.1 89.3 L195.2 88.3 L195.3 85.1 L195.5 73.3 L195.6 62.4 L195.8 50.8 L195.9 38.2 L196.0 46.7 L196.2 54.2 L196.3 61.1 L196.5 69.3 L196.6 72.0 L196.7 74.0 L196.9 78.4 L197.0 83.8 L197.2 88.9 L197.3 93.5 L197.4 96.5 L197.6 94.7 L197.7 92.4 L197.8 88.4 L198.0 82.8 L198.1 75.6 L198.3 69.0 L198.4 63.8 L198.5 62.7 L198.7 66.9 L198.8 70.9 L199.0 75.9 L199.1 82.1 L199.2 88.8 L199.4 94.2 L199.5 97.6 L199.7 98.3 L199.8 96.1 L199.9 91.4 L200.1 84.7 L200.2 77.1 L200.4 69.4 L200.5 62.7 L200.6 57.8 L200.8 55.5 L200.9 57.1 L201.1 61.4 L201.2 67.7 L201.3 75.1 L201.5 82.3 L201.6 89.1 L201.7 95.7 L201.9 101.7 L202.0 101.8 L202.2 97.4 L202.3 91.2 L202.4 84.2 L202.6 78.8 L202.7 75.4 L202.9 73.0 L203.0 70.3 L203.1 69.5 L203.3 71.0 L203.4 72.8 L203.6 74.5 L203.7 75.6 L203.8 76.1 L204.0 76.1 L204.1 76.1 L204.3 76.5 L204.4 77.6 L204.5 79.5 L204.7 82.2 L204.8 85.1 L204.9 87.8 L205.1 89.7 L205.2 90.3 L205.4 87.6 L205.5 79.4 L205.6 70.1 L205.8 60.1 L205.9 50.0 L206.1 51.8 L206.2 54.6 L206.3 58.8 L206.5 64.6 L206.6 68.2 L206.8 71.5 L206.9 76.0 L207.0 81.3 L207.2 86.8 L207.3 91.7 L207.5 100.7 L207.6 108.1 L207.7 113.6 L207.9 107.1 L208.0 99.1 L208.1 90.3 L208.3 81.6 L208.4 73.7 L208.6 67.3 L208.7 72.7 L208.8 79.8 L209.0 88.0 L209.1 91.6 L209.3 94.7 L209.4 96.5 L209.5 96.3 L209.7 94.1 L209.8 90.0 L210.0 84.7 L210.1 78.9 L210.2 73.6 L210.4 69.4 L210.5 66.8 L210.7 66.0 L210.8 66.7 L210.9 68.7 L211.1 71.5 L211.2 75.0 L211.3 122.8 L211.5 57.7 L211.6 82.3 L211.8 84.1 L211.9 84.9 L212.0 84.9 L212.2 83.8 L212.3 81.9 L212.5 79.2 L212.6 76.2 L212.7 73.4 L212.9 71.3 L213.0 70.3 L213.2 70.9 L213.3 72.9 L213.4 76.0 L213.6 79.8 L213.7 83.6 L213.9 86.8 L214.0 88.8 L214.1 89.3 L214.3 92.5 L214.4 98.4 L214.5 103.6 L214.7 92.5 L214.8 81.7 L215.0 72.3 L215.1 64.8 L215.2 58.2 L215.4 64.5 L215.5 71.5 L215.7 75.8 L215.8 77.1 L215.9 78.3 L216.1 79.0 L216.2 79.2 L216.4 79.0 L216.5 78.6 L216.6 78.0 L216.8 77.7 L216.9 77.8 L217.1 78.5 L217.2 79.6 L217.3 81.1 L217.5 84.6 L217.6 89.7 L217.7 94.3 L217.9 98.2 L218.0 93.8 L218.2 88.7 L218.3 83.0 L218.4 73.4 L218.6 60.3 L218.7 47.9 L218.9 36.4 L219.0 48.4 L219.1 61.1 L219.3 74.2 L219.4 81.7 L219.6 83.1 L219.7 83.8 L219.8 83.7 L220.0 83.1 L220.1 82.3 L220.3 81.8 L220.4 81.9 L220.5 82.9 L220.7 84.6 L220.8 86.9 L220.9 89.0 L221.1 87.8 L221.2 79.5 L221.4 69.5 L221.5 57.7 L221.6 44.5 L221.8 47.3 L221.9 50.1 L222.1 53.8 L222.2 59.4 L222.3 61.5 L222.5 63.7 L222.6 68.4 L222.8 85.5 L222.9 103.5 L223.0 121.0 L223.2 115.6 L223.3 107.8 L223.5 97.3 L223.6 94.9 L223.7 89.9 L223.9 37.3 L224.0 79.2 L224.1 126.4 L224.3 71.9 L224.4 70.2 L224.6 70.7 L224.7 72.2 L224.8 74.0 L225.0 75.6 L225.1 76.3 L225.3 76.8 L225.4 77.0 L225.5 76.7 L225.7 76.8 L225.8 77.6 L226.0 79.1 L226.1 81.1 L226.2 83.6 L226.4 85.0 L226.5 84.4 L226.7 81.3 L226.8 77.2 L226.9 71.8 L227.1 66.1 L227.2 61.1 L227.3 57.9 L227.5 57.3 L227.6 59.6 L227.8 64.5 L227.9 71.3 L228.0 79.5 L228.2 90.1 L228.3 99.5 L228.5 105.9 L228.6 109.0 L228.7 105.0 L228.9 98.9 L229.0 91.8 L229.2 84.8 L229.3 79.2 L229.4 73.4 L229.6 68.0 L229.7 62.1 L229.9 58.2 L230.0 62.1 L230.1 66.4 L230.3 71.3 L230.4 77.1 L230.5 81.4 L230.7 85.1 L230.8 89.3 L231.0 93.5 L231.1 97.0 L231.2 99.1 L231.4 99.3 L231.5 97.3 L231.7 90.4 L231.8 79.0 L231.9 67.1 L232.1 53.6 L232.2 53.0 L232.4 55.1 L232.5 60.4 L232.6 67.9 L232.8 76.8 L232.9 87.3 L233.1 96.4 L233.2 97.7 L233.3 97.7 L233.5 96.9 L233.6 96.4 L233.8 92.4 L233.9 87.2 L234.0 81.8 L234.2 77.2 L234.3 74.9 L234.4 75.0 L234.6 76.2 L234.7 78.1 L234.9 80.5 L235.0 83.2 L235.1 85.2 L235.3 85.7 L235.4 83.0 L235.6 74.9 L235.7 66.3 L235.8 57.0 L236.0 47.3 L236.1 48.0 L236.3 49.3 L236.4 51.7 L236.5 55.7 L236.7 58.0 L236.8 60.8 L237.0 65.7 L237.1 72.3 L237.2 80.0 L237.4 87.6 L237.5 94.4 L237.6 99.7 L237.8 102.9 L237.9 103.6 L238.1 102.1 L238.2 98.6 L238.3 94.1 L238.5 89.2 L238.6 78.8 L238.8 69.6 L238.9 61.6 L239.0 55.5 L239.2 63.3 L239.3 71.7 L239.5 80.7 L239.6 89.7 L239.7 100.9 L239.9 111.2 L240.0 121.6 L240.2 132.7 L240.3 123.2 L240.4 111.1 L240.6 97.6 L240.7 83.0 L240.8 76.4 L241.0 69.9 L241.1 64.3 L241.3 60.4 L241.4 58.8 L241.5 59.9 L241.7 63.8 L241.8 69.9 L242.0 77.5 L242.1 85.5 L242.2 92.6 L242.4 97.8 L242.5 100.2 L242.7 99.5 L242.8 96.0 L242.9 90.3 L243.1 81.3 L243.2 70.0 L243.4 60.2 L243.5 52.7 L243.6 57.7 L243.8 65.2 L243.9 74.8 L244.0 85.8 L244.2 97.1 L244.3 107.0 L244.5 114.5 L244.6 107.0 L244.7 97.0 L244.9 85.0 L245.0 75.2 L245.2 68.7 L245.3 63.7 L245.4 61.0 L245.6 61.3 L245.7 63.9 L245.9 68.2 L246.0 73.3 L246.1 79.6 L246.3 88.2 L246.4 96.0 L246.6 102.3 L246.7 107.3 L246.8 103.2 L247.0 98.2 L247.1 92.5 L247.2 86.5 L247.4 83.0 L247.5 80.7 L247.7 78.3 L247.8 74.0 L247.9 70.6 L248.1 67.6 L248.2 65.5 L248.4 66.7 L248.5 69.1" stroke="#000" stroke-width="0.8" stroke-dasharray="6 0.8 0.8 0.8"/>
</g>
<rect x="26.0" y="6.0" width="222.50" height="139.50" fill="none" stroke="#000" stroke-width="0.65"/>
<path d="M26.00 145.5 v-3.0 M26.00 6.0 v3.0 M81.62 145.5 v-1.5 M81.62 6.0 v1.5 M137.25 145.5 v-3.0 M137.25 6.0 v3.0 M192.88 145.5 v-1.5 M192.88 6.0 v1.5 M248.50 145.5 v-3.0 M248.50 6.0 v3.0 M26.0 145.50 h3.0 M248.5 145.50 h-3.0 M26.0 134.77 h1.5 M248.5 134.77 h-1.5 M26.0 124.04 h3.0 M248.5 124.04 h-3.0 M26.0 113.31 h1.5 M248.5 113.31 h-1.5 M26.0 102.58 h3.0 M248.5 102.58 h-3.0 M26.0 91.85 h1.5 M248.5 91.85 h-1.5 M26.0 81.12 h3.0 M248.5 81.12 h-3.0 M26.0 70.38 h1.5 M248.5 70.38 h-1.5 M26.0 59.65 h3.0 M248.5 59.65 h-3.0 M26.0 48.92 h1.5 M248.5 48.92 h-1.5 M26.0 38.19 h3.0 M248.5 38.19 h-3.0 M26.0 27.46 h1.5 M248.5 27.46 h-1.5 M26.0 16.73 h3.0 M248.5 16.73 h-3.0 M26.0 6.00 h1.5 M248.5 6.00 h-1.5" stroke="#000" stroke-width="0.75" fill="none"/>
<text x="23.00" y="147.40" font-size="6.0" text-anchor="end" stroke="#000" stroke-width="0.18">&#8722;6</text>
<text x="23.00" y="125.94" font-size="6.0" text-anchor="end" stroke="#000" stroke-width="0.18">&#8722;4</text>
<text x="23.00" y="104.48" font-size="6.0" text-anchor="end" stroke="#000" stroke-width="0.18">&#8722;2</text>
<text x="23.00" y="83.02" font-size="6.0" text-anchor="end" stroke="#000" stroke-width="0.18">0</text>
<text x="23.00" y="61.55" font-size="6.0" text-anchor="end" stroke="#000" stroke-width="0.18">2</text>
<text x="23.00" y="40.09" font-size="6.0" text-anchor="end" stroke="#000" stroke-width="0.18">4</text>
<text x="23.00" y="18.63" font-size="6.0" text-anchor="end" stroke="#000" stroke-width="0.18">6</text>
<text x="26.00" y="152.90" font-size="6.0" text-anchor="middle" stroke="#000" stroke-width="0.18">0</text>
<text x="137.25" y="152.90" font-size="6.0" text-anchor="middle" stroke="#000" stroke-width="0.18">5</text>
<text x="248.50" y="152.90" font-size="6.0" text-anchor="middle" stroke="#000" stroke-width="0.18">10</text>
<text x="137.55" y="165.20" font-size="7.2" text-anchor="middle" stroke="#000" stroke-width="0.2">Time (s)</text>
<text x="137.25" y="174.90" font-size="10" text-anchor="middle" stroke="#000" stroke-width="0.2"><tspan font-size="8">(</tspan><tspan dx="0.3">a</tspan><tspan font-size="8" dx="0.3">)</tspan></text>
<text x="0" y="0" font-size="7.0" text-anchor="middle" transform="translate(9.4,74.80) rotate(-90)" textLength="76" lengthAdjust="spacing" stroke="#000" stroke-width="0.2">Body Acceleration (m/s<tspan font-size="4.5" dy="-2.2">2</tspan><tspan dy="2.2">)</tspan></text>
<rect x="169.3" y="10.1" width="23.19999999999999" height="16.1" fill="#fff" stroke="#333" stroke-width="0.8"/>
<path d="M170.3 14.4 H183.8" stroke="#ff2020" stroke-width="0.8"/>
<path d="M170.3 21.9 H183.8" stroke="#000" stroke-width="0.8" stroke-dasharray="2.4 0.9 0.7 0.9"/>
<text x="183.9" y="16.3" font-size="6.1" text-anchor="start" stroke="#000" stroke-width="0.18">S3</text>
<text x="184.1" y="23.9" font-size="6.1" text-anchor="start" stroke="#000" stroke-width="0.18">T0</text>
<clipPath id="clipb"><rect x="321.4" y="6.5" width="222.10000000000002" height="138.6"/></clipPath>
<g clip-path="url(#clipb)" fill="none" stroke-linejoin="round">
<path d="M321.4 79.9 L321.5 85.9 L321.7 89.2 L321.8 89.6 L322.0 86.4 L322.1 81.1 L322.2 74.7 L322.4 67.9 L322.5 61.5 L322.7 57.5 L322.8 56.1 L322.9 57.1 L323.1 59.7 L323.2 62.9 L323.3 65.7 L323.5 67.4 L323.6 67.8 L323.8 67.2 L323.9 66.2 L324.0 65.7 L324.2 66.3 L324.3 68.3 L324.5 73.7 L324.6 81.6 L324.7 89.1 L324.9 93.6 L325.0 88.1 L325.2 81.7 L325.3 73.6 L325.4 64.6 L325.6 56.0 L325.7 48.8 L325.8 44.2 L326.0 46.6 L326.1 52.6 L326.3 61.8 L326.4 71.5 L326.5 79.2 L326.7 86.1 L326.8 91.4 L327.0 94.2 L327.1 94.5 L327.2 92.2 L327.4 88.0 L327.5 82.5 L327.7 76.4 L327.8 70.4 L327.9 63.6 L328.1 57.8 L328.2 53.5 L328.3 50.9 L328.5 49.1 L328.6 46.9 L328.8 45.9 L328.9 45.6 L329.0 45.6 L329.2 50.2 L329.3 54.5 L329.5 58.2 L329.6 61.3 L329.7 62.4 L329.9 64.9 L330.0 72.6 L330.2 80.4 L330.3 88.2 L330.4 96.0 L330.6 87.9 L330.7 79.3 L330.8 70.1 L331.0 60.3 L331.1 55.5 L331.3 53.5 L331.4 52.4 L331.5 50.9 L331.7 47.1 L331.8 45.1 L332.0 44.5 L332.1 44.8 L332.2 56.9 L332.4 68.3 L332.5 78.7 L332.7 87.6 L332.8 90.9 L332.9 90.6 L333.1 89.0 L333.2 86.3 L333.3 82.9 L333.5 79.1 L333.6 75.3 L333.8 71.8 L333.9 68.7 L334.0 63.2 L334.2 55.5 L334.3 48.6 L334.5 42.4 L334.6 48.7 L334.7 55.9 L334.9 64.1 L335.0 72.9 L335.2 82.0 L335.3 91.4 L335.4 100.5 L335.6 98.1 L335.7 94.1 L335.8 87.9 L336.0 82.0 L336.1 76.6 L336.3 69.6 L336.4 61.8 L336.5 54.6 L336.7 49.0 L336.8 46.0 L337.0 46.5 L337.1 51.2 L337.2 56.8 L337.4 64.0 L337.5 71.7 L337.7 78.9 L337.8 83.9 L337.9 85.7 L338.1 84.2 L338.2 79.6 L338.3 72.3 L338.5 64.7 L338.6 55.2 L338.8 46.9 L338.9 40.6 L339.0 36.9 L339.2 39.9 L339.3 45.5 L339.5 53.2 L339.6 62.5 L339.7 72.0 L339.9 81.0 L340.0 89.2 L340.2 96.0 L340.3 97.9 L340.4 97.4 L340.6 94.6 L340.7 89.6 L340.8 84.3 L341.0 77.7 L341.1 70.6 L341.3 63.3 L341.4 56.7 L341.5 51.2 L341.7 47.2 L341.8 45.0 L342.0 44.7 L342.1 46.4 L342.2 49.9 L342.4 54.9 L342.5 61.1 L342.7 67.8 L342.8 75.2 L342.9 82.1 L343.1 87.4 L343.2 90.4 L343.3 90.7 L343.5 88.4 L343.6 84.0 L343.8 77.1 L343.9 67.3 L344.0 58.5 L344.2 51.0 L344.3 46.0 L344.5 51.5 L344.6 59.0 L344.7 68.0 L344.9 77.5 L345.0 83.7 L345.2 87.3 L345.3 88.8 L345.4 87.2 L345.6 81.8 L345.7 76.8 L345.8 71.0 L346.0 63.9 L346.1 57.2 L346.3 52.4 L346.4 50.3 L346.5 51.4 L346.7 55.7 L346.8 62.6 L347.0 70.9 L347.1 78.3 L347.2 85.1 L347.4 90.4 L347.5 93.6 L347.7 94.5 L347.8 93.2 L347.9 90.2 L348.1 86.0 L348.2 81.2 L348.3 83.4 L348.5 92.8 L348.6 102.4 L348.8 84.2 L348.9 66.7 L349.0 54.0 L349.2 46.3 L349.3 39.8 L349.5 45.5 L349.6 56.2 L349.7 63.5 L349.9 67.4 L350.0 72.9 L350.2 79.4 L350.3 26.0 L350.4 91.3 L350.6 105.2 L350.7 94.1 L350.8 90.0 L351.0 82.8 L351.1 73.0 L351.3 64.6 L351.4 57.6 L351.5 51.6 L351.7 47.4 L351.8 45.6 L352.0 45.9 L352.1 48.8 L352.2 53.6 L352.4 59.7 L352.5 66.4 L352.7 74.5 L352.8 84.0 L352.9 90.3 L353.1 93.7 L353.2 94.5 L353.3 93.2 L353.5 90.7 L353.6 87.6 L353.8 84.4 L353.9 81.3 L354.0 78.5 L354.2 75.6 L354.3 72.8 L354.5 70.2 L354.6 67.4 L354.7 65.0 L354.9 63.4 L355.0 62.8 L355.2 63.7 L355.3 66.1 L355.4 69.7 L355.6 73.9 L355.7 79.2 L355.8 84.2 L356.0 83.5 L356.1 83.5 L356.3 80.7 L356.4 77.2 L356.5 73.2 L356.7 68.8 L356.8 61.9 L357.0 56.0 L357.1 52.4 L357.2 57.5 L357.4 63.1 L357.5 69.3 L357.7 74.5 L357.8 78.9 L357.9 82.7 L358.1 85.1 L358.2 85.6 L358.3 84.0 L358.5 80.4 L358.6 75.4 L358.8 69.6 L358.9 62.6 L359.0 56.7 L359.2 52.8 L359.3 51.1 L359.5 51.8 L359.6 54.6 L359.7 59.0 L359.9 64.3 L360.0 69.7 L360.2 74.1 L360.3 78.7 L360.4 84.8 L360.6 86.4 L360.7 86.0 L360.8 83.8 L361.0 80.1 L361.1 75.4 L361.3 70.3 L361.4 65.0 L361.5 58.4 L361.7 53.4 L361.8 49.8 L362.0 47.8 L362.1 51.2 L362.2 55.9 L362.4 61.5 L362.5 67.6 L362.7 72.3 L362.8 75.8 L362.9 80.9 L363.1 87.4 L363.2 92.4 L363.3 96.0 L363.5 88.0 L363.6 79.2 L363.8 70.0 L363.9 63.7 L364.0 60.8 L364.2 49.6 L364.3 39.6 L364.5 49.3 L364.6 59.9 L364.7 78.9 L364.9 97.9 L365.0 82.7 L365.2 66.9 L365.3 67.5 L365.4 67.4 L365.6 66.8 L365.7 65.9 L365.8 64.9 L366.0 63.8 L366.1 62.0 L366.3 58.9 L366.4 55.8 L366.5 52.9 L366.7 50.6 L366.8 52.7 L367.0 56.0 L367.1 60.7 L367.2 66.5 L367.4 72.0 L367.5 76.8 L367.7 80.9 L367.8 83.3 L367.9 83.8 L368.1 82.3 L368.2 79.0 L368.3 74.8 L368.5 70.4 L368.6 66.7 L368.8 64.2 L368.9 63.1 L369.0 63.3 L369.2 64.5 L369.3 66.2 L369.5 67.9 L369.6 69.3 L369.7 70.4 L369.9 71.3 L370.0 72.1 L370.2 72.9 L370.3 73.6 L370.4 74.0 L370.6 73.6 L370.7 72.1 L370.8 69.1 L371.0 64.8 L371.1 58.7 L371.3 51.8 L371.4 46.1 L371.5 42.7 L371.7 48.1 L371.8 54.7 L372.0 62.9 L372.1 72.9 L372.2 84.0 L372.4 93.3 L372.5 99.6 L372.7 96.4 L372.8 89.5 L372.9 79.6 L373.1 69.4 L373.2 61.4 L373.3 54.2 L373.5 48.7 L373.6 45.5 L373.8 44.7 L373.9 46.2 L374.0 49.5 L374.2 54.0 L374.3 59.1 L374.5 64.1 L374.6 68.4 L374.7 71.9 L374.9 74.2 L375.0 75.0 L375.2 74.5 L375.3 73.2 L375.4 71.6 L375.6 70.4 L375.7 69.9 L375.8 70.4 L376.0 71.8 L376.1 73.9 L376.3 75.9 L376.4 77.3 L376.5 77.4 L376.7 75.7 L376.8 72.1 L377.0 67.1 L377.1 60.2 L377.2 53.5 L377.4 47.9 L377.5 44.2 L377.7 45.6 L377.8 49.7 L377.9 56.3 L378.1 64.9 L378.2 73.3 L378.3 80.9 L378.5 87.5 L378.6 92.1 L378.8 94.5 L378.9 94.3 L379.0 91.7 L379.2 87.3 L379.3 81.9 L379.5 76.2 L379.6 71.0 L379.7 66.6 L379.9 63.5 L380.0 61.8 L380.2 61.2 L380.3 61.3 L380.4 61.8 L380.6 62.3 L380.7 62.7 L380.8 63.2 L381.0 64.1 L381.1 91.9 L381.3 47.2 L381.4 68.7 L381.5 71.4 L381.7 74.1 L381.8 76.4 L382.0 78.0 L382.1 78.8 L382.2 78.8 L382.4 78.0 L382.5 78.1 L382.7 81.1 L382.8 83.6 L382.9 85.7 L383.1 87.7 L383.2 79.1 L383.3 70.2 L383.5 61.1 L383.6 52.4 L383.8 48.1 L383.9 46.9 L384.0 47.5 L384.2 50.1 L384.3 54.4 L384.5 59.8 L384.6 65.6 L384.7 71.1 L384.9 75.7 L385.0 78.0 L385.2 78.2 L385.3 76.4 L385.4 73.4 L385.6 70.2 L385.7 58.9 L385.8 48.9 L386.0 58.5 L386.1 69.7 L386.3 57.8 L386.4 31.0 L386.5 64.6 L386.7 84.0 L386.8 88.7 L387.0 82.3 L387.1 75.8 L387.2 71.5 L387.4 88.2 L387.5 126.5 L387.7 79.9 L387.8 52.0 L387.9 43.2 L388.1 54.4 L388.2 63.0 L388.3 42.2 L388.5 21.2 L388.6 53.8 L388.8 86.0 L388.9 90.5 L389.0 93.5 L389.2 89.7 L389.3 93.2 L389.5 108.0 L389.6 83.4 L389.7 74.4 L389.9 66.9 L390.0 59.7 L390.2 53.1 L390.3 48.6 L390.4 46.1 L390.6 46.3 L390.7 48.1 L390.8 52.4 L391.0 58.7 L391.1 72.3 L391.3 86.4 L391.4 100.0 L391.5 100.8 L391.7 99.1 L391.8 94.5 L392.0 92.5 L392.1 87.9 L392.2 81.4 L392.4 73.8 L392.5 66.4 L392.7 59.1 L392.8 49.5 L392.9 45.4 L393.1 44.7 L393.2 46.9 L393.3 51.4 L393.5 57.2 L393.6 63.5 L393.8 69.1 L393.9 72.9 L394.0 76.8 L394.2 78.6 L394.3 78.4 L394.5 30.7 L394.6 93.4 L394.7 76.2 L394.9 74.8 L395.0 73.6 L395.2 72.0 L395.3 69.8 L395.4 67.2 L395.6 63.4 L395.7 58.1 L395.9 53.0 L396.0 48.6 L396.1 45.6 L396.3 47.7 L396.4 52.2 L396.5 59.1 L396.7 67.9 L396.8 74.2 L397.0 79.3 L397.1 83.5 L397.2 86.1 L397.4 86.8 L397.5 86.9 L397.7 86.6 L397.8 85.2 L397.9 83.5 L398.1 76.9 L398.2 68.7 L398.4 61.4 L398.5 56.7 L398.6 54.3 L398.8 54.0 L398.9 55.0 L399.0 61.7 L399.2 66.7 L399.3 70.9 L399.5 73.4 L399.6 74.6 L399.7 76.4 L399.9 76.2 L400.0 73.6 L400.2 71.1 L400.3 68.2 L400.4 64.7 L400.6 61.1 L400.7 58.1 L400.9 56.1 L401.0 55.6 L401.1 60.6 L401.3 64.5 L401.4 67.5 L401.5 71.3 L401.7 77.6 L401.8 84.1 L402.0 89.5 L402.1 93.1 L402.2 94.2 L402.4 91.1 L402.5 85.1 L402.7 76.7 L402.8 68.2 L402.9 63.1 L403.1 58.5 L403.2 54.9 L403.4 52.8 L403.5 52.4 L403.6 54.2 L403.8 57.5 L403.9 62.0 L404.0 66.9 L404.2 73.7 L404.3 81.7 L404.5 86.9 L404.6 87.9 L404.7 86.0 L404.9 82.9 L405.0 78.4 L405.2 72.5 L405.3 65.1 L405.4 60.2 L405.6 55.9 L405.7 52.4 L405.9 56.7 L406.0 64.1 L406.1 72.0 L406.3 80.0 L406.4 85.0 L406.5 87.8 L406.7 88.6 L406.8 87.6 L407.0 84.6 L407.1 80.4 L407.2 75.3 L407.4 70.2 L407.5 64.7 L407.7 60.2 L407.8 57.2 L407.9 55.6 L408.1 55.2 L408.2 55.6 L408.4 56.3 L408.5 57.1 L408.6 58.1 L408.8 60.2 L408.9 62.3 L409.0 64.3 L409.2 66.7 L409.3 69.5 L409.5 73.3 L409.6 76.3 L409.7 78.0 L409.9 75.7 L410.0 73.5 L410.2 71.1 L410.3 67.8 L410.4 64.0 L410.6 60.7 L410.7 58.4 L410.9 57.6 L411.0 58.7 L411.1 61.1 L411.3 65.1 L411.4 70.3 L411.5 74.7 L411.7 79.1 L411.8 82.7 L412.0 85.2 L412.1 86.9 L412.2 86.9 L412.4 85.2 L412.5 82.1 L412.7 77.4 L412.8 72.1 L412.9 66.3 L413.1 60.4 L413.2 55.3 L413.4 51.4 L413.5 49.3 L413.6 47.6 L413.8 44.0 L413.9 42.3 L414.0 42.2 L414.2 43.3 L414.3 56.7 L414.5 69.7 L414.6 81.5 L414.7 91.0 L414.9 93.8 L415.0 91.8 L415.2 87.0 L415.3 80.0 L415.4 84.7 L415.6 102.4 L415.7 69.5 L415.9 49.1 L416.0 41.9 L416.1 47.5 L416.3 52.9 L416.4 57.2 L416.5 61.9 L416.7 65.7 L416.8 67.7 L417.0 67.4 L417.1 64.7 L417.2 60.2 L417.4 54.9 L417.5 49.8 L417.7 46.4 L417.8 48.8 L417.9 51.1 L418.1 55.6 L418.2 62.0 L418.4 69.6 L418.5 78.3 L418.6 85.0 L418.8 90.9 L418.9 90.9 L419.0 90.4 L419.2 80.8 L419.3 69.3 L419.5 57.0 L419.6 49.6 L419.7 45.1 L419.9 44.2 L420.0 48.1 L420.2 55.0 L420.3 63.9 L420.4 72.5 L420.6 80.1 L420.7 86.3 L420.9 90.1 L421.0 91.5 L421.1 90.7 L421.3 88.1 L421.4 84.6 L421.5 80.9 L421.7 77.9 L421.8 75.8 L422.0 74.8 L422.1 74.7 L422.2 75.2 L422.4 75.7 L422.5 75.6 L422.7 74.6 L422.8 72.5 L422.9 79.4 L423.1 94.7 L423.2 70.6 L423.4 55.7 L423.5 50.6 L423.6 54.9 L423.8 59.7 L423.9 64.6 L424.0 70.5 L424.2 76.5 L424.3 81.5 L424.5 84.9 L424.6 86.0 L424.7 85.0 L424.9 82.2 L425.0 78.2 L425.2 73.9 L425.3 69.9 L425.4 62.0 L425.6 55.3 L425.7 50.0 L425.9 46.0 L426.0 52.9 L426.1 60.5 L426.3 68.3 L426.4 76.0 L426.5 81.5 L426.7 86.0 L426.8 89.4 L427.0 91.5 L427.1 86.0 L427.2 79.7 L427.4 73.2 L427.5 67.2 L427.7 65.5 L427.8 65.2 L427.9 66.2 L428.1 68.3 L428.2 70.8 L428.4 73.1 L428.5 74.6 L428.6 75.0 L428.8 72.5 L428.9 65.1 L429.0 57.7 L429.2 50.6 L429.3 44.2 L429.5 50.5 L429.6 57.1 L429.7 63.5 L429.9 69.3 L430.0 70.1 L430.2 68.3 L430.3 66.4 L430.4 65.0 L430.6 59.2 L430.7 49.4 L430.9 41.2 L431.0 56.9 L431.1 72.9 L431.3 85.2 L431.4 93.1 L431.5 98.7 L431.7 90.9 L431.8 81.1 L432.0 72.8 L432.1 67.0 L432.2 61.3 L432.4 56.1 L432.5 52.2 L432.7 49.9 L432.8 48.9 L432.9 50.8 L433.1 53.2 L433.2 55.8 L433.4 58.4 L433.5 60.1 L433.6 61.3 L433.8 62.4 L433.9 63.4 L434.0 64.4 L434.2 66.5 L434.3 71.0 L434.5 75.4 L434.6 79.6 L434.7 83.5 L434.9 80.0 L435.0 76.1 L435.2 71.8 L435.3 67.2 L435.4 64.9 L435.6 63.9 L435.7 63.2 L435.9 63.1 L436.0 63.5 L436.1 64.5 L436.3 66.0 L436.4 67.8 L436.5 70.0 L436.7 72.2 L436.8 74.5 L437.0 76.6 L437.1 78.1 L437.2 78.9 L437.4 78.8 L437.5 77.4 L437.7 75.1 L437.8 71.9 L437.9 68.2 L438.1 64.2 L438.2 59.9 L438.4 56.8 L438.5 55.1 L438.6 55.0 L438.8 59.2 L438.9 64.3 L439.0 69.6 L439.2 74.8 L439.3 78.2 L439.5 80.3 L439.6 81.4 L439.7 81.7 L439.9 81.2 L440.0 80.2 L440.2 78.6 L440.3 76.4 L440.4 73.7 L440.6 70.4 L440.7 66.9 L440.9 63.3 L441.0 59.8 L441.1 57.0 L441.3 55.3 L441.4 55.1 L441.5 56.7 L441.7 60.1 L441.8 64.9 L442.0 70.5 L442.1 76.6 L442.2 81.7 L442.4 85.1 L442.5 86.1 L442.7 84.9 L442.8 81.6 L442.9 77.0 L443.1 71.8 L443.2 67.2 L443.4 63.8 L443.5 61.0 L443.6 60.6 L443.8 61.8 L443.9 64.2 L444.0 77.4 L444.2 90.4 L444.3 82.1 L444.5 72.5 L444.6 63.6 L444.7 53.3 L444.9 57.7 L445.0 61.9 L445.2 59.0 L445.3 57.7 L445.4 58.5 L445.6 61.5 L445.7 67.0 L445.9 75.0 L446.0 82.7 L446.1 89.1 L446.3 93.3 L446.4 89.9 L446.5 84.3 L446.7 77.4 L446.8 70.3 L447.0 66.0 L447.1 64.5 L447.2 65.3 L447.4 68.4 L447.5 73.0 L447.7 77.9 L447.8 81.8 L447.9 83.8 L448.1 83.4 L448.2 80.6 L448.4 75.0 L448.5 66.6 L448.6 58.6 L448.8 52.1 L448.9 47.8 L449.0 52.0 L449.2 58.1 L449.3 65.3 L449.5 72.5 L449.6 76.6 L449.7 77.8 L449.9 76.9 L450.0 73.9 L450.2 69.6 L450.3 64.8 L450.4 60.5 L450.6 57.5 L450.7 56.3 L450.9 56.9 L451.0 57.1 L451.1 54.6 L451.3 52.4 L451.4 50.0 L451.5 47.1 L451.7 54.4 L451.8 61.4 L452.0 68.1 L452.1 74.7 L452.2 78.8 L452.4 83.6 L452.5 87.5 L452.7 90.2 L452.8 91.5 L452.9 83.0 L453.1 73.6 L453.2 63.7 L453.4 54.2 L453.5 48.5 L453.6 46.0 L453.8 45.6 L453.9 47.6 L454.0 51.6 L454.2 57.3 L454.3 64.0 L454.5 70.7 L454.6 76.7 L454.7 81.3 L454.9 84.1 L455.0 84.8 L455.2 83.7 L455.3 81.3 L455.4 78.2 L455.6 75.0 L455.7 72.3 L455.9 70.4 L456.0 69.3 L456.1 53.8 L456.3 38.7 L456.4 53.9 L456.5 69.3 L456.7 81.2 L456.8 93.6 L457.0 83.8 L457.1 74.7 L457.2 77.5 L457.4 80.6 L457.5 83.2 L457.7 84.7 L457.8 84.3 L457.9 81.7 L458.1 76.6 L458.2 69.6 L458.4 62.8 L458.5 55.9 L458.6 50.1 L458.8 46.1 L458.9 44.7 L459.0 45.9 L459.2 49.5 L459.3 54.8 L459.5 60.9 L459.6 66.6 L459.7 71.6 L459.9 74.8 L460.0 75.7 L460.2 74.2 L460.3 71.1 L460.4 63.2 L460.6 51.1 L460.7 39.6 L460.9 46.6 L461.0 54.1 L461.1 65.6 L461.3 85.5 L461.4 105.0 L461.5 91.5 L461.7 78.2 L461.8 74.3 L462.0 78.2 L462.1 81.1 L462.2 82.5 L462.4 81.9 L462.5 78.9 L462.7 73.4 L462.8 67.1 L462.9 61.4 L463.1 52.8 L463.2 41.9 L463.4 32.4 L463.5 36.2 L463.6 42.3 L463.8 54.9 L463.9 73.5 L464.0 93.6 L464.2 86.7 L464.3 80.9 L464.5 82.3 L464.6 88.8 L464.7 92.9 L464.9 94.5 L465.0 93.6 L465.2 90.6 L465.3 85.9 L465.4 80.1 L465.6 72.7 L465.7 62.9 L465.9 53.1 L466.0 44.4 L466.1 38.3 L466.3 42.6 L466.4 49.0 L466.5 57.1 L466.7 66.4 L466.8 72.6 L467.0 76.9 L467.1 81.7 L467.2 84.4 L467.4 84.9 L467.5 83.6 L467.7 81.2 L467.8 78.0 L467.9 74.7 L468.1 71.9 L468.2 69.7 L468.4 45.6 L468.5 69.2 L468.6 92.1 L468.8 72.0 L468.9 73.7 L469.0 75.4 L469.2 76.7 L469.3 77.3 L469.5 77.0 L469.6 75.8 L469.7 73.6 L469.9 70.8 L470.0 67.3 L470.2 63.7 L470.3 60.2 L470.4 57.2 L470.6 55.0 L470.7 53.9 L470.9 54.2 L471.0 55.8 L471.1 58.8 L471.3 63.5 L471.4 68.3 L471.6 73.6 L471.7 79.1 L471.8 84.1 L472.0 87.8 L472.1 89.8 L472.2 89.7 L472.4 87.2 L472.5 81.3 L472.7 74.3 L472.8 67.7 L472.9 60.9 L473.1 54.3 L473.2 49.0 L473.4 45.6 L473.5 45.0 L473.6 47.5 L473.8 52.8 L473.9 60.3 L474.1 69.1 L474.2 78.0 L474.3 85.8 L474.5 91.5 L474.6 94.5 L474.7 94.5 L474.9 91.7 L475.0 86.4 L475.2 79.5 L475.3 71.5 L475.4 63.5 L475.6 54.7 L475.7 47.3 L475.9 41.8 L476.0 38.7 L476.1 41.2 L476.3 46.2 L476.4 53.1 L476.6 61.1 L476.7 72.2 L476.8 83.0 L477.0 92.4 L477.1 98.7 L477.2 93.1 L477.4 85.0 L477.5 75.3 L477.7 66.0 L477.8 62.1 L477.9 59.7 L478.1 58.7 L478.2 58.6 L478.4 62.2 L478.5 66.9 L478.6 71.8 L478.8 75.9 L478.9 78.5 L479.1 79.0 L479.2 77.6 L479.3 74.4 L479.5 70.0 L479.6 65.3 L479.7 61.0 L479.9 57.9 L480.0 56.4 L480.2 56.8 L480.3 58.8 L480.4 62.0 L480.6 65.8 L480.7 69.4 L480.9 79.5 L481.0 88.6 L481.1 81.9 L481.3 74.3 L481.4 61.7 L481.6 48.9 L481.7 60.0 L481.8 71.4 L482.0 71.3 L482.1 70.9 L482.2 70.1 L482.4 68.8 L482.5 66.5 L482.7 63.5 L482.8 60.4 L482.9 57.7 L483.1 56.3 L483.2 56.7 L483.4 59.3 L483.5 64.2 L483.6 70.6 L483.8 77.0 L483.9 83.5 L484.1 89.1 L484.2 92.9 L484.3 94.5 L484.5 93.6 L484.6 90.5 L484.7 85.8 L484.9 80.4 L485.0 100.3 L485.2 48.8 L485.3 65.3 L485.4 63.0 L485.6 62.3 L485.7 62.7 L485.9 63.6 L486.0 64.6 L486.1 65.3 L486.3 65.4 L486.4 65.3 L486.6 65.4 L486.7 66.0 L486.8 67.5 L487.0 69.9 L487.1 72.8 L487.2 75.6 L487.4 77.8 L487.5 78.6 L487.7 77.8 L487.8 75.4 L487.9 72.0 L488.1 68.3 L488.2 65.4 L488.4 64.0 L488.5 64.6 L488.6 67.1 L488.8 71.1 L488.9 75.7 L489.1 79.9 L489.2 82.8 L489.3 83.8 L489.5 82.7 L489.6 79.7 L489.7 84.3 L489.9 97.2 L490.0 75.7 L490.2 57.0 L490.3 41.5 L490.4 55.8 L490.6 64.4 L490.7 66.9 L490.9 69.7 L491.0 72.3 L491.1 74.3 L491.3 75.2 L491.4 75.0 L491.6 73.6 L491.7 71.1 L491.8 67.8 L492.0 64.0 L492.1 59.7 L492.2 55.1 L492.4 51.1 L492.5 48.1 L492.7 46.2 L492.8 48.4 L492.9 52.8 L493.1 56.3 L493.2 60.4 L493.4 64.2 L493.5 67.5 L493.6 70.5 L493.8 72.6 L493.9 73.1 L494.1 71.3 L494.2 68.2 L494.3 63.9 L494.5 58.8 L494.6 53.8 L494.7 49.9 L494.9 47.7 L495.0 48.0 L495.2 51.0 L495.3 56.4 L495.4 63.4 L495.6 70.9 L495.7 76.7 L495.9 81.5 L496.0 84.4 L496.1 85.2 L496.3 83.8 L496.4 80.6 L496.6 76.6 L496.7 70.3 L496.8 62.6 L497.0 56.3 L497.1 51.5 L497.2 57.7 L497.4 65.2 L497.5 73.0 L497.7 78.8 L497.8 81.8 L497.9 83.6 L498.1 84.2 L498.2 85.2 L498.4 84.9 L498.5 82.5 L498.6 80.0 L498.8 77.7 L498.9 75.5 L499.1 73.4 L499.2 71.2 L499.3 68.6 L499.5 65.1 L499.6 60.5 L499.7 56.1 L499.9 52.6 L500.0 50.5 L500.2 53.2 L500.3 57.7 L500.4 63.4 L500.6 69.7 L500.7 74.6 L500.9 77.6 L501.0 78.5 L501.1 77.1 L501.3 85.9 L501.4 93.3 L501.6 75.9 L501.7 59.9 L501.8 54.2 L502.0 49.2 L502.1 55.6 L502.2 63.8 L502.4 68.3 L502.5 73.4 L502.7 77.7 L502.8 79.6 L502.9 76.5 L503.1 73.1 L503.2 68.6 L503.4 61.7 L503.5 54.7 L503.6 48.9 L503.8 45.3 L503.9 44.7 L504.1 47.4 L504.2 56.2 L504.3 63.5 L504.5 70.3 L504.6 77.3 L504.7 83.3 L504.9 87.5 L505.0 89.4 L505.2 88.8 L505.3 85.7 L505.4 80.5 L505.6 73.0 L505.7 66.4 L505.9 59.2 L506.0 52.8 L506.1 48.0 L506.3 45.2 L506.4 44.8 L506.6 47.0 L506.7 51.5 L506.8 58.0 L507.0 65.8 L507.1 73.1 L507.2 79.2 L507.4 84.2 L507.5 87.4 L507.7 88.6 L507.8 87.1 L507.9 83.3 L508.1 77.5 L508.2 70.4 L508.4 61.7 L508.5 53.4 L508.6 47.8 L508.8 45.0 L508.9 45.8 L509.1 49.1 L509.2 54.3 L509.3 60.1 L509.5 65.5 L509.6 69.9 L509.7 73.0 L509.9 75.9 L510.0 77.6 L510.2 76.0 L510.3 73.8 L510.4 72.0 L510.6 71.2 L510.7 71.6 L510.9 72.9 L511.0 74.7 L511.1 76.2 L511.3 76.8 L511.4 75.8 L511.6 73.2 L511.7 69.1 L511.8 64.2 L512.0 59.2 L512.1 54.8 L512.2 51.9 L512.4 50.8 L512.5 51.8 L512.7 54.6 L512.8 58.9 L512.9 50.0 L513.1 41.5 L513.2 60.7 L513.4 79.2 L513.5 86.9 L513.6 93.1 L513.8 88.5 L513.9 82.1 L514.1 78.6 L514.2 73.9 L514.3 68.4 L514.5 63.0 L514.6 58.5 L514.7 55.8 L514.9 55.4 L515.0 57.5 L515.2 61.9 L515.3 67.7 L515.4 75.5 L515.6 85.7 L515.7 94.4 L515.9 100.8 L516.0 105.0 L516.1 98.4 L516.3 90.9 L516.4 83.5 L516.6 77.1 L516.7 75.3 L516.8 76.6 L517.0 78.8 L517.1 81.2 L517.2 82.7 L517.4 82.5 L517.5 79.9 L517.7 70.3 L517.8 59.2 L517.9 47.6 L518.1 36.9 L518.2 37.9 L518.4 42.0 L518.5 49.3 L518.6 59.5 L518.8 66.8 L518.9 74.9 L519.1 90.9 L519.2 105.0 L519.3 99.0 L519.5 90.0 L519.6 64.1 L519.7 36.1 L519.9 53.0 L520.0 69.9 L520.2 64.8 L520.3 61.3 L520.4 60.0 L520.6 60.9 L520.7 63.8 L520.9 68.3 L521.0 73.8 L521.1 79.5 L521.3 84.5 L521.4 88.1 L521.6 89.6 L521.7 88.6 L521.8 85.0 L522.0 79.3 L522.1 71.9 L522.2 63.9 L522.4 56.3 L522.5 50.1 L522.7 46.1 L522.8 44.7 L522.9 46.1 L523.1 50.1 L523.2 56.3 L523.4 63.7 L523.5 71.7 L523.6 79.2 L523.8 85.5 L523.9 89.8 L524.1 91.7 L524.2 90.8 L524.3 87.5 L524.5 82.1 L524.6 75.4 L524.7 68.0 L524.9 44.8 L525.0 55.8 L525.2 92.8 L525.3 49.1 L525.4 47.6 L525.6 47.6 L525.7 48.3 L525.9 49.4 L526.0 50.8 L526.1 52.7 L526.3 55.3 L526.4 59.1 L526.6 64.2 L526.7 70.5 L526.8 76.9 L527.0 83.2 L527.1 88.6 L527.2 92.3 L527.4 93.7 L527.5 92.5 L527.7 88.9 L527.8 83.6 L527.9 77.2 L528.1 70.8 L528.2 63.9 L528.4 58.3 L528.5 49.9 L528.6 43.3 L528.8 47.3 L528.9 52.3 L529.1 72.0 L529.2 92.1 L529.3 75.1 L529.5 58.3 L529.6 60.5 L529.7 63.2 L529.9 66.1 L530.0 69.1 L530.2 71.9 L530.3 74.0 L530.4 75.3 L530.6 75.6 L530.7 75.0 L530.9 73.8 L531.0 72.5 L531.1 71.2 L531.3 70.4 L531.4 70.0 L531.6 70.0 L531.7 70.3 L531.8 69.2 L532.0 65.1 L532.1 60.7 L532.2 55.8 L532.4 50.6 L532.5 52.9 L532.7 55.0 L532.8 56.7 L532.9 58.2 L533.1 56.9 L533.2 54.2 L533.4 51.8 L533.5 50.0 L533.6 49.2 L533.8 49.7 L533.9 51.4 L534.1 54.4 L534.2 58.3 L534.3 62.6 L534.5 66.9 L534.6 70.9 L534.7 74.3 L534.9 77.2 L535.0 79.7 L535.2 81.9 L535.3 90.1 L535.4 97.9 L535.6 105.0 L535.7 98.4 L535.9 90.1 L536.0 80.1 L536.1 74.7 L536.3 55.9 L536.4 36.8 L536.6 43.1 L536.7 51.2 L536.8 46.5 L537.0 45.0 L537.1 53.3 L537.2 63.9 L537.4 72.3 L537.5 80.5 L537.7 87.1 L537.8 91.1 L537.9 91.8 L538.1 89.3 L538.2 84.2 L538.4 77.3 L538.5 70.2 L538.6 63.9 L538.8 59.7 L538.9 67.4 L539.1 77.7 L539.2 90.3 L539.3 104.2 L539.5 99.6 L539.6 94.2 L539.7 87.0 L539.9 77.8 L540.0 71.3 L540.2 63.2 L540.3 54.3 L540.4 45.6 L540.6 47.1 L540.7 50.9 L540.9 58.0 L541.0 66.0 L541.1 71.6 L541.3 78.7 L541.4 85.5 L541.6 90.8 L541.7 92.9 L541.8 91.6 L542.0 86.3 L542.1 76.7 L542.2 65.5 L542.4 54.4 L542.5 44.1 L542.7 40.3 L542.8 39.5 L542.9 42.0 L543.1 47.9 L543.2 55.1 L543.4 63.4 L543.5 72.2" stroke="#ff0000" stroke-width="0.75"/>
<path d="M321.4 62.3 L321.5 59.0 L321.7 56.3 L321.8 54.4 L322.0 53.2 L322.1 52.5 L322.2 52.3 L322.4 52.5 L322.5 52.9 L322.7 53.7 L322.8 55.0 L322.9 56.9 L323.1 59.3 L323.2 62.2 L323.3 65.3 L323.5 72.4 L323.6 79.3 L323.8 85.6 L323.9 83.1 L324.0 80.1 L324.2 76.6 L324.3 84.7 L324.5 92.4 L324.6 99.6 L324.7 90.5 L324.9 80.7 L325.0 70.2 L325.2 66.9 L325.3 62.7 L325.4 57.9 L325.6 53.6 L325.7 50.5 L325.8 49.2 L326.0 52.1 L326.1 57.1 L326.3 64.0 L326.4 71.9 L326.5 79.3 L326.7 85.6 L326.8 90.5 L327.0 93.5 L327.1 94.5 L327.2 93.8 L327.4 91.8 L327.5 89.1 L327.7 86.0 L327.8 82.7 L327.9 79.1 L328.1 75.3 L328.2 71.1 L328.3 66.5 L328.5 62.0 L328.6 55.9 L328.8 48.7 L328.9 43.2 L329.0 39.6 L329.2 46.9 L329.3 55.4 L329.5 64.7 L329.6 73.3 L329.7 80.7 L329.9 86.6 L330.0 90.7 L330.2 85.2 L330.3 78.5 L330.4 71.1 L330.6 65.5 L330.7 62.3 L330.8 59.7 L331.0 57.9 L331.1 56.8 L331.3 56.3 L331.4 56.2 L331.5 54.8 L331.7 50.1 L331.8 45.8 L332.0 41.9 L332.1 38.7 L332.2 46.3 L332.4 54.6 L332.5 63.2 L332.7 71.9 L332.8 76.6 L332.9 78.4 L333.1 78.6 L333.2 77.0 L333.3 73.8 L333.5 69.5 L333.6 65.1 L333.8 61.6 L333.9 59.7 L334.0 60.1 L334.2 62.8 L334.3 55.0 L334.5 47.8 L334.6 64.1 L334.7 79.2 L334.9 87.8 L335.0 94.3 L335.2 83.9 L335.3 72.8 L335.4 69.8 L335.6 68.2 L335.7 68.9 L335.8 72.0 L336.0 76.9 L336.1 82.8 L336.3 88.5 L336.4 92.7 L336.5 94.5 L336.7 93.4 L336.8 89.5 L337.0 83.7 L337.1 76.8 L337.2 70.3 L337.4 64.9 L337.5 61.9 L337.7 62.0 L337.8 64.8 L337.9 69.6 L338.1 74.6 L338.2 79.1 L338.3 82.2 L338.5 83.3 L338.6 82.8 L338.8 80.5 L338.9 76.3 L339.0 63.9 L339.2 52.7 L339.3 43.4 L339.5 52.9 L339.6 64.3 L339.7 77.1 L339.9 83.1 L340.0 87.9 L340.2 90.7 L340.3 88.0 L340.4 82.5 L340.6 74.9 L340.7 67.7 L340.8 61.0 L341.0 56.0 L341.1 53.9 L341.3 54.8 L341.4 58.3 L341.5 63.5 L341.7 68.8 L341.8 72.9 L342.0 74.6 L342.1 73.4 L342.2 69.5 L342.4 63.9 L342.5 58.3 L342.7 53.5 L342.8 50.7 L342.9 50.7 L343.1 52.0 L343.2 55.7 L343.3 60.8 L343.5 66.4 L343.6 71.9 L343.8 76.2 L343.9 78.7 L344.0 79.2 L344.2 78.0 L344.3 75.7 L344.5 72.6 L344.6 69.3 L344.7 66.2 L344.9 63.5 L345.0 61.3 L345.2 59.5 L345.3 58.1 L345.4 57.2 L345.6 56.6 L345.7 56.4 L345.8 56.8 L346.0 57.8 L346.1 59.7 L346.3 62.4 L346.4 65.8 L346.5 69.9 L346.7 74.3 L346.8 78.5 L347.0 82.2 L347.1 84.8 L347.2 86.2 L347.4 86.0 L347.5 84.3 L347.7 81.5 L347.8 77.9 L347.9 74.2 L348.1 70.8 L348.2 68.5 L348.3 67.3 L348.5 67.3 L348.6 68.1 L348.8 74.4 L348.9 85.4 L349.0 95.8 L349.2 85.3 L349.3 74.0 L349.5 67.1 L349.6 49.4 L349.7 32.4 L349.9 47.9 L350.0 64.6 L350.2 49.2 L350.3 34.7 L350.4 56.1 L350.6 77.2 L350.7 96.5 L350.8 114.2 L351.0 96.2 L351.1 76.4 L351.3 72.3 L351.4 67.3 L351.5 61.2 L351.7 53.8 L351.8 47.5 L352.0 42.6 L352.1 39.6 L352.2 43.8 L352.4 49.4 L352.5 56.0 L352.7 63.0 L352.8 68.1 L352.9 71.9 L353.1 74.8 L353.2 77.1 L353.3 78.8 L353.5 80.1 L353.6 81.4 L353.8 82.7 L353.9 83.8 L354.0 84.5 L354.2 84.5 L354.3 83.5 L354.5 81.3 L354.6 78.1 L354.7 74.5 L354.9 71.0 L355.0 68.5 L355.2 67.5 L355.3 68.4 L355.4 71.0 L355.6 75.1 L355.7 80.2 L355.8 85.1 L356.0 86.6 L356.1 84.2 L356.3 80.6 L356.4 76.3 L356.5 71.3 L356.7 64.7 L356.8 58.3 L357.0 53.5 L357.1 51.5 L357.2 55.3 L357.4 58.7 L357.5 63.6 L357.7 69.6 L357.8 75.5 L357.9 80.8 L358.1 84.4 L358.2 85.6 L358.3 84.0 L358.5 79.9 L358.6 73.8 L358.8 66.7 L358.9 59.9 L359.0 54.6 L359.2 51.5 L359.3 51.1 L359.5 53.3 L359.6 57.6 L359.7 63.1 L359.9 68.9 L360.0 74.4 L360.2 78.8 L360.3 83.2 L360.4 87.8 L360.6 87.9 L360.7 86.8 L360.8 85.1 L361.0 83.0 L361.1 80.8 L361.3 78.3 L361.4 74.8 L361.5 69.3 L361.7 63.5 L361.8 57.7 L362.0 52.1 L362.1 52.1 L362.2 52.8 L362.4 54.3 L362.5 56.6 L362.7 57.7 L362.8 58.5 L362.9 59.5 L363.1 60.9 L363.2 62.6 L363.3 65.3 L363.5 68.2 L363.6 71.6 L363.8 75.8 L363.9 80.1 L364.0 90.7 L364.2 86.4 L364.3 105.0 L364.5 84.9 L364.6 80.2 L364.7 63.2 L364.9 45.6 L365.0 49.0 L365.2 53.0 L365.3 48.1 L365.4 45.3 L365.6 45.2 L365.7 47.2 L365.8 50.9 L366.0 55.5 L366.1 60.1 L366.3 64.1 L366.4 67.2 L366.5 69.1 L366.7 70.5 L366.8 71.2 L367.0 71.7 L367.1 72.4 L367.2 73.6 L367.4 75.2 L367.5 76.8 L367.7 78.0 L367.8 76.9 L367.9 72.0 L368.1 65.6 L368.2 57.9 L368.3 49.6 L368.5 48.5 L368.6 48.3 L368.8 49.5 L368.9 52.3 L369.0 54.2 L369.2 56.1 L369.3 58.5 L369.5 61.0 L369.6 63.3 L369.7 65.3 L369.9 67.3 L370.0 69.3 L370.2 71.9 L370.3 75.1 L370.4 78.5 L370.6 81.6 L370.7 83.5 L370.8 83.5 L371.0 81.0 L371.1 76.0 L371.3 69.0 L371.4 61.2 L371.5 51.7 L371.7 43.7 L371.8 38.3 L372.0 36.0 L372.1 40.9 L372.2 48.0 L372.4 56.3 L372.5 64.8 L372.7 74.3 L372.8 82.5 L372.9 88.9 L373.1 93.6 L373.2 89.1 L373.3 83.7 L373.5 77.6 L373.6 71.4 L373.8 69.3 L373.9 67.8 L374.0 66.9 L374.2 67.1 L374.3 68.2 L374.5 70.2 L374.6 72.8 L374.7 75.8 L374.9 78.6 L375.0 81.0 L375.2 82.5 L375.3 83.0 L375.4 82.5 L375.6 81.2 L375.7 79.2 L375.8 76.8 L376.0 74.4 L376.1 72.0 L376.3 69.7 L376.4 67.7 L376.5 64.9 L376.7 60.3 L376.8 56.1 L377.0 52.4 L377.1 49.2 L377.2 52.8 L377.4 57.3 L377.5 62.7 L377.7 69.0 L377.8 73.9 L377.9 78.1 L378.1 82.3 L378.2 85.8 L378.3 88.4 L378.5 89.7 L378.6 89.2 L378.8 86.9 L378.9 82.5 L379.0 76.4 L379.2 69.1 L379.3 63.1 L379.5 57.3 L379.6 52.5 L379.7 49.1 L379.9 47.8 L380.0 48.6 L380.2 51.5 L380.3 56.1 L380.4 61.9 L380.6 68.0 L380.7 75.6 L380.8 82.7 L381.0 90.2 L381.1 97.8 L381.3 96.0 L381.4 80.5 L381.5 51.4 L381.7 76.4 L381.8 86.9 L382.0 83.0 L382.1 78.9 L382.2 74.8 L382.4 70.7 L382.5 66.4 L382.7 62.1 L382.8 57.9 L382.9 53.9 L383.1 50.6 L383.2 48.2 L383.3 47.3 L383.5 48.4 L383.6 51.6 L383.8 57.2 L383.9 64.5 L384.0 71.8 L384.2 78.6 L384.3 84.6 L384.5 88.7 L384.6 90.7 L384.7 89.2 L384.9 84.1 L385.0 76.0 L385.2 66.3 L385.3 57.1 L385.4 49.3 L385.6 44.7 L385.7 43.8 L385.8 48.3 L386.0 55.6 L386.1 64.3 L386.3 62.8 L386.4 50.2 L386.5 75.9 L386.7 95.5 L386.8 108.0 L387.0 93.2 L387.1 82.2 L387.2 75.9 L387.4 86.9 L387.5 98.0 L387.7 74.3 L387.8 52.3 L387.9 39.1 L388.1 17.0 L388.2 40.5 L388.3 50.1 L388.5 45.3 L388.6 59.4 L388.8 68.9 L388.9 73.6 L389.0 77.9 L389.2 110.0 L389.3 82.8 L389.5 88.7 L389.6 81.0 L389.7 77.4 L389.9 73.7 L390.0 69.1 L390.2 63.0 L390.3 53.9 L390.4 46.1 L390.6 40.5 L390.7 44.5 L390.8 51.8 L391.0 62.0 L391.1 73.2 L391.3 83.9 L391.4 93.9 L391.5 96.9 L391.7 97.0 L391.8 93.5 L392.0 89.1 L392.1 81.9 L392.2 73.2 L392.4 63.5 L392.5 54.7 L392.7 49.1 L392.8 47.3 L392.9 49.5 L393.1 54.8 L393.2 62.0 L393.3 69.6 L393.5 75.2 L393.6 79.2 L393.8 81.6 L393.9 83.6 L394.0 82.1 L394.2 79.7 L394.3 76.8 L394.5 38.6 L394.6 99.6 L394.7 72.5 L394.9 71.0 L395.0 69.3 L395.2 66.7 L395.3 63.1 L395.4 58.8 L395.6 53.9 L395.7 48.4 L395.9 43.9 L396.0 40.9 L396.1 39.6 L396.3 42.5 L396.4 47.0 L396.5 52.8 L396.7 59.4 L396.8 65.5 L397.0 70.8 L397.1 75.4 L397.2 78.7 L397.4 80.4 L397.5 82.3 L397.7 84.4 L397.8 85.2 L397.9 84.2 L398.1 77.4 L398.2 70.2 L398.4 62.6 L398.5 57.0 L398.6 54.9 L398.8 53.9 L398.9 54.2 L399.0 56.5 L399.2 62.3 L399.3 66.1 L399.5 70.4 L399.6 74.5 L399.7 78.8 L399.9 82.7 L400.0 85.6 L400.2 86.8 L400.3 85.8 L400.4 82.5 L400.6 77.3 L400.7 70.8 L400.9 63.5 L401.0 57.4 L401.1 55.5 L401.3 56.5 L401.4 59.4 L401.5 64.7 L401.7 71.4 L401.8 78.5 L402.0 84.4 L402.1 87.8 L402.2 89.2 L402.4 87.2 L402.5 79.6 L402.7 70.2 L402.8 62.9 L402.9 56.9 L403.1 53.0 L403.2 51.5 L403.4 53.4 L403.5 57.4 L403.6 62.8 L403.8 68.6 L403.9 75.3 L404.0 81.0 L404.2 84.9 L404.3 86.4 L404.5 85.3 L404.6 82.3 L404.7 78.1 L404.9 73.4 L405.0 69.1 L405.2 66.6 L405.3 64.7 L405.4 62.8 L405.6 63.7 L405.7 66.1 L405.9 69.2 L406.0 73.1 L406.1 77.2 L406.3 81.0 L406.4 84.0 L406.5 85.7 L406.7 85.7 L406.8 83.3 L407.0 77.7 L407.1 70.6 L407.2 62.7 L407.4 55.8 L407.5 53.3 L407.7 52.1 L407.8 52.6 L407.9 54.8 L408.1 57.3 L408.2 60.0 L408.4 63.2 L408.5 66.1 L408.6 68.6 L408.8 70.9 L408.9 72.7 L409.0 74.0 L409.2 74.9 L409.3 75.7 L409.5 76.2 L409.6 76.1 L409.7 75.2 L409.9 73.0 L410.0 70.2 L410.2 66.9 L410.3 63.3 L410.4 60.1 L410.6 57.9 L410.7 57.0 L410.9 58.0 L411.0 60.4 L411.1 63.7 L411.3 68.4 L411.4 72.7 L411.5 76.9 L411.7 80.8 L411.8 83.9 L412.0 86.0 L412.1 87.3 L412.2 87.0 L412.4 85.0 L412.5 79.9 L412.7 74.6 L412.8 69.8 L412.9 63.7 L413.1 58.0 L413.2 53.7 L413.4 51.3 L413.5 51.4 L413.6 51.6 L413.8 49.2 L413.9 48.6 L414.0 48.7 L414.2 48.5 L414.3 61.8 L414.5 73.9 L414.6 84.1 L414.7 92.2 L414.9 93.5 L415.0 90.6 L415.2 86.2 L415.3 80.9 L415.4 83.9 L415.6 95.8 L415.7 73.9 L415.9 53.5 L416.0 35.0 L416.1 52.7 L416.3 63.6 L416.4 67.4 L416.5 71.6 L416.7 75.6 L416.8 79.3 L417.0 82.1 L417.1 82.2 L417.2 80.2 L417.4 76.1 L417.5 70.5 L417.7 64.1 L417.8 57.9 L417.9 52.7 L418.1 49.3 L418.2 48.3 L418.4 49.6 L418.5 52.9 L418.6 57.3 L418.8 70.0 L418.9 81.6 L419.0 91.5 L419.2 82.9 L419.3 72.2 L419.5 60.1 L419.6 55.4 L419.7 51.5 L419.9 49.2 L420.0 49.8 L420.2 52.8 L420.3 57.8 L420.4 63.8 L420.6 69.9 L420.7 75.4 L420.9 79.5 L421.0 81.8 L421.1 82.4 L421.3 81.6 L421.4 79.8 L421.5 77.4 L421.7 74.7 L421.8 71.9 L422.0 69.2 L422.1 66.5 L422.2 63.9 L422.4 61.6 L422.5 59.7 L422.7 58.5 L422.8 58.1 L422.9 58.5 L423.1 59.9 L423.2 62.3 L423.4 95.8 L423.5 49.9 L423.6 70.2 L423.8 72.6 L423.9 74.2 L424.0 74.8 L424.2 74.5 L424.3 73.2 L424.5 71.2 L424.6 69.0 L424.7 66.8 L424.9 65.1 L425.0 64.2 L425.2 64.3 L425.3 65.4 L425.4 67.0 L425.6 68.9 L425.7 70.6 L425.9 71.8 L426.0 72.2 L426.1 71.9 L426.3 71.0 L426.4 64.0 L426.5 57.2 L426.7 50.7 L426.8 56.5 L427.0 62.8 L427.1 69.4 L427.2 78.9 L427.4 88.2 L427.5 97.0 L427.7 87.9 L427.8 78.3 L427.9 68.3 L428.1 64.5 L428.2 58.5 L428.4 53.3 L428.5 49.2 L428.6 56.7 L428.8 65.4 L428.9 75.3 L429.0 83.3 L429.2 88.5 L429.3 92.6 L429.5 94.5 L429.6 93.5 L429.7 89.3 L429.9 82.3 L430.0 73.6 L430.2 64.1 L430.3 55.8 L430.4 50.2 L430.6 44.0 L430.7 37.5 L430.9 34.2 L431.0 50.2 L431.1 66.4 L431.3 79.0 L431.4 87.2 L431.5 92.8 L431.7 86.0 L431.8 76.9 L432.0 69.3 L432.1 62.6 L432.2 55.6 L432.4 50.6 L432.5 47.8 L432.7 53.8 L432.8 60.8 L432.9 67.9 L433.1 72.5 L433.2 74.3 L433.4 74.8 L433.5 74.0 L433.6 72.1 L433.8 71.2 L433.9 74.5 L434.0 77.7 L434.2 80.9 L434.3 84.2 L434.5 77.3 L434.6 70.5 L434.7 64.0 L434.9 57.7 L435.0 55.3 L435.2 54.7 L435.3 54.2 L435.4 53.7 L435.6 53.2 L435.7 52.7 L435.9 52.2 L436.0 52.1 L436.1 52.7 L436.3 54.2 L436.4 56.9 L436.5 60.7 L436.7 65.4 L436.8 70.7 L437.0 75.9 L437.1 80.4 L437.2 83.5 L437.4 84.8 L437.5 84.0 L437.7 81.1 L437.8 76.7 L437.9 71.5 L438.1 66.5 L438.2 61.7 L438.4 56.7 L438.5 53.1 L438.6 54.2 L438.8 58.3 L438.9 63.7 L439.0 69.5 L439.2 74.0 L439.3 77.5 L439.5 80.3 L439.6 84.1 L439.7 83.6 L439.9 82.0 L440.0 80.0 L440.2 78.2 L440.3 77.2 L440.4 77.4 L440.6 78.7 L440.7 81.0 L440.9 83.7 L441.0 86.1 L441.1 87.6 L441.3 87.6 L441.4 85.9 L441.5 82.3 L441.7 77.1 L441.8 70.9 L442.0 65.6 L442.1 61.2 L442.2 57.7 L442.4 55.6 L442.5 54.9 L442.7 55.7 L442.8 57.5 L442.9 59.9 L443.1 62.3 L443.2 65.0 L443.4 70.0 L443.5 77.6 L443.6 84.7 L443.8 91.5 L443.9 84.4 L444.0 77.3 L444.2 70.2 L444.3 65.5 L444.5 63.1 L444.6 60.1 L444.7 56.5 L444.9 55.8 L445.0 54.8 L445.2 54.2 L445.3 53.7 L445.4 53.7 L445.6 55.3 L445.7 58.4 L445.9 63.5 L446.0 70.9 L446.1 78.3 L446.3 84.9 L446.4 88.5 L446.5 83.3 L446.7 76.0 L446.8 69.4 L447.0 63.1 L447.1 60.1 L447.2 60.1 L447.4 62.3 L447.5 66.1 L447.7 72.6 L447.8 79.9 L447.9 85.7 L448.1 88.8 L448.2 89.1 L448.4 86.6 L448.5 81.1 L448.6 72.2 L448.8 63.9 L448.9 57.1 L449.0 52.1 L449.2 57.0 L449.3 62.6 L449.5 68.2 L449.6 73.1 L449.7 74.0 L449.9 72.5 L450.0 70.5 L450.2 68.8 L450.3 68.3 L450.4 69.6 L450.6 72.7 L450.7 77.3 L450.9 82.5 L451.0 87.1 L451.1 90.0 L451.3 90.2 L451.4 87.6 L451.5 82.3 L451.7 75.2 L451.8 66.7 L452.0 57.3 L452.1 49.6 L452.2 44.3 L452.4 41.5 L452.5 44.1 L452.7 48.0 L452.8 52.2 L452.9 56.0 L453.1 59.8 L453.2 66.3 L453.4 72.7 L453.5 79.4 L453.6 87.1 L453.8 84.5 L453.9 82.5 L454.0 80.5 L454.2 77.5 L454.3 76.4 L454.5 74.8 L454.6 70.7 L454.7 65.0 L454.9 58.7 L455.0 53.3 L455.2 50.2 L455.3 50.3 L455.4 53.8 L455.6 60.2 L455.7 68.2 L455.9 76.3 L456.0 82.8 L456.1 86.3 L456.3 86.4 L456.4 99.6 L456.5 76.3 L456.7 44.8 L456.8 60.8 L457.0 55.0 L457.1 51.5 L457.2 51.1 L457.4 53.8 L457.5 59.0 L457.7 65.8 L457.8 73.2 L457.9 80.2 L458.1 85.9 L458.2 89.7 L458.4 91.1 L458.5 89.9 L458.6 86.3 L458.8 80.6 L458.9 73.4 L459.0 65.7 L459.2 58.3 L459.3 52.5 L459.5 48.9 L459.6 48.2 L459.7 50.4 L459.9 55.0 L460.0 55.6 L460.2 51.1 L460.3 45.6 L460.4 59.7 L460.6 71.2 L460.7 81.1 L460.9 89.9 L461.0 97.9 L461.1 81.3 L461.3 66.2 L461.4 59.2 L461.5 60.7 L461.7 63.8 L461.8 67.8 L462.0 71.6 L462.1 74.5 L462.2 75.8 L462.4 75.3 L462.5 73.3 L462.7 70.1 L462.8 66.6 L462.9 63.4 L463.1 57.1 L463.2 47.9 L463.4 39.8 L463.5 48.2 L463.6 57.2 L463.8 69.3 L463.9 84.4 L464.0 99.6 L464.2 88.9 L464.3 78.3 L464.5 74.3 L464.6 76.6 L464.7 78.5 L464.9 79.6 L465.0 79.4 L465.2 77.8 L465.3 74.8 L465.4 70.4 L465.6 63.7 L465.7 53.5 L465.9 44.1 L466.0 36.2 L466.1 30.5 L466.3 37.1 L466.4 46.1 L466.5 56.9 L466.7 68.8 L466.8 77.4 L467.0 83.7 L467.1 88.4 L467.2 91.2 L467.4 92.0 L467.5 91.0 L467.7 88.8 L467.8 85.6 L467.9 82.0 L468.1 87.6 L468.2 93.3 L468.4 80.6 L468.5 68.2 L468.6 53.5 L468.8 39.6 L468.9 50.6 L469.0 62.7 L469.2 64.1 L469.3 66.5 L469.5 69.5 L469.6 72.3 L469.7 74.1 L469.9 74.5 L470.0 72.8 L470.2 69.3 L470.3 64.2 L470.4 58.5 L470.6 53.2 L470.7 49.4 L470.9 47.8 L471.0 48.9 L471.1 52.6 L471.3 58.1 L471.4 64.5 L471.6 70.6 L471.7 75.3 L471.8 77.8 L472.0 77.9 L472.1 75.9 L472.2 72.3 L472.4 67.4 L472.5 61.4 L472.7 56.3 L472.8 52.4 L472.9 49.9 L473.1 52.2 L473.2 55.3 L473.4 58.7 L473.5 62.2 L473.6 64.3 L473.8 65.8 L473.9 67.2 L474.1 68.6 L474.2 69.8 L474.3 70.8 L474.5 71.2 L474.6 70.9 L474.7 69.8 L474.9 67.8 L475.0 65.0 L475.2 61.7 L475.3 58.1 L475.4 54.7 L475.6 50.1 L475.7 46.7 L475.9 44.8 L476.0 44.8 L476.1 50.5 L476.3 57.9 L476.4 66.6 L476.6 75.8 L476.7 83.0 L476.8 88.7 L477.0 92.1 L477.1 92.8 L477.2 90.4 L477.4 85.7 L477.5 79.9 L477.7 73.9 L477.8 69.1 L477.9 65.7 L478.1 64.2 L478.2 64.2 L478.4 65.1 L478.5 66.4 L478.6 67.2 L478.8 67.2 L478.9 66.2 L479.1 64.5 L479.2 62.7 L479.3 61.3 L479.5 60.9 L479.6 61.9 L479.7 64.2 L479.9 67.6 L480.0 71.5 L480.2 76.5 L480.3 81.9 L480.4 86.3 L480.6 89.6 L480.7 87.4 L480.9 84.1 L481.0 80.1 L481.1 73.8 L481.3 65.3 L481.4 56.6 L481.6 47.8 L481.7 50.4 L481.8 53.0 L482.0 55.8 L482.1 56.2 L482.2 54.4 L482.4 53.5 L482.5 53.7 L482.7 55.1 L482.8 58.0 L482.9 63.6 L483.1 67.2 L483.2 71.1 L483.4 76.6 L483.5 81.8 L483.6 86.2 L483.8 89.2 L483.9 90.1 L484.1 88.3 L484.2 81.2 L484.3 75.1 L484.5 68.1 L484.6 61.0 L484.7 54.1 L484.9 48.6 L485.0 45.4 L485.2 43.3 L485.3 49.0 L485.4 94.3 L485.6 63.5 L485.7 72.5 L485.9 81.8 L486.0 89.2 L486.1 93.5 L486.3 94.5 L486.4 92.2 L486.6 87.5 L486.7 81.4 L486.8 75.0 L487.0 69.4 L487.1 65.6 L487.2 62.7 L487.4 61.0 L487.5 62.6 L487.7 65.6 L487.8 69.3 L487.9 72.4 L488.1 75.0 L488.2 77.0 L488.4 79.1 L488.5 81.1 L488.6 80.2 L488.8 78.4 L488.9 75.8 L489.1 72.9 L489.2 70.2 L489.3 68.4 L489.5 67.7 L489.6 68.5 L489.7 70.6 L489.9 73.4 L490.0 89.1 L490.2 104.2 L490.3 92.7 L490.4 79.8 L490.6 63.9 L490.7 47.1 L490.9 59.0 L491.0 71.5 L491.1 70.9 L491.3 71.5 L491.4 73.1 L491.6 74.9 L491.7 76.1 L491.8 75.9 L492.0 73.8 L492.1 69.8 L492.2 64.1 L492.4 57.3 L492.5 51.2 L492.7 46.9 L492.8 45.0 L492.9 48.0 L493.1 53.4 L493.2 60.2 L493.4 67.3 L493.5 72.6 L493.6 74.8 L493.8 74.8 L493.9 72.4 L494.1 67.9 L494.2 61.6 L494.3 55.5 L494.5 50.9 L494.6 49.1 L494.7 50.8 L494.9 55.9 L495.0 63.7 L495.2 72.2 L495.3 78.6 L495.4 83.5 L495.6 86.0 L495.7 85.4 L495.9 82.7 L496.0 77.9 L496.1 71.7 L496.3 62.9 L496.4 54.5 L496.6 49.0 L496.7 47.0 L496.8 50.1 L497.0 56.0 L497.1 63.8 L497.2 71.2 L497.4 75.8 L497.5 78.9 L497.7 80.2 L497.8 81.4 L497.9 77.6 L498.1 73.0 L498.2 68.5 L498.4 63.0 L498.5 58.7 L498.6 56.1 L498.8 55.1 L498.9 56.2 L499.1 59.2 L499.2 63.7 L499.3 69.3 L499.5 74.1 L499.6 79.0 L499.7 83.4 L499.9 86.9 L500.0 89.2 L500.2 89.8 L500.3 84.2 L500.4 77.7 L500.6 70.3 L500.7 62.9 L500.9 54.3 L501.0 50.8 L501.1 48.7 L501.3 49.2 L501.4 47.2 L501.6 44.1 L501.7 44.9 L501.8 44.2 L502.0 57.1 L502.1 70.1 L502.2 82.3 L502.4 89.4 L502.5 90.9 L502.7 90.1 L502.8 87.1 L502.9 82.3 L503.1 76.2 L503.2 69.5 L503.4 60.5 L503.5 52.8 L503.6 47.3 L503.8 44.7 L503.9 45.0 L504.1 48.2 L504.2 53.8 L504.3 61.4 L504.5 69.5 L504.6 75.3 L504.7 81.2 L504.9 85.6 L505.0 88.4 L505.2 89.3 L505.3 88.3 L505.4 85.4 L505.6 80.9 L505.7 75.2 L505.9 68.7 L506.0 61.0 L506.1 52.9 L506.3 46.1 L506.4 41.2 L506.6 38.7 L506.7 41.5 L506.8 46.6 L507.0 53.7 L507.1 62.0 L507.2 69.6 L507.4 76.7 L507.5 84.2 L507.7 88.3 L507.8 89.6 L507.9 87.8 L508.1 84.1 L508.2 79.0 L508.4 73.4 L508.5 68.5 L508.6 65.1 L508.8 61.0 L508.9 54.9 L509.1 52.8 L509.2 51.3 L509.3 50.3 L509.5 49.9 L509.6 49.2 L509.7 50.3 L509.9 56.8 L510.0 62.4 L510.2 67.3 L510.3 73.6 L510.4 80.9 L510.6 87.2 L510.7 91.4 L510.9 92.9 L511.0 91.3 L511.1 86.7 L511.3 79.4 L511.4 70.2 L511.6 63.2 L511.7 56.7 L511.8 51.0 L512.0 46.8 L512.1 44.7 L512.2 44.9 L512.4 47.5 L512.5 52.2 L512.7 58.4 L512.8 65.5 L512.9 62.1 L513.1 47.1 L513.2 78.3 L513.4 95.7 L513.5 99.0 L513.6 93.0 L513.8 85.9 L513.9 78.6 L514.1 70.8 L514.2 65.5 L514.3 60.8 L514.5 55.4 L514.6 51.9 L514.7 54.5 L514.9 59.8 L515.0 66.9 L515.2 74.2 L515.3 80.7 L515.4 85.9 L515.6 95.6 L515.7 100.5 L515.9 99.4 L516.0 97.9 L516.1 87.5 L516.3 76.2 L516.4 64.6 L516.6 55.0 L516.7 47.3 L516.8 42.9 L517.0 41.9 L517.1 43.4 L517.2 56.2 L517.4 68.4 L517.5 79.9 L517.7 90.0 L517.8 93.2 L517.9 94.5 L518.1 94.0 L518.2 92.0 L518.4 89.1 L518.5 92.9 L518.6 95.2 L518.8 97.9 L518.9 86.5 L519.1 74.1 L519.2 61.1 L519.3 48.1 L519.5 36.8 L519.6 27.8 L519.7 38.2 L519.9 51.6 L520.0 67.6 L520.2 74.8 L520.3 81.7 L520.4 87.9 L520.6 92.3 L520.7 94.5 L520.9 94.1 L521.0 91.4 L521.1 87.0 L521.3 81.8 L521.4 76.7 L521.6 72.5 L521.7 69.8 L521.8 68.4 L522.0 68.7 L522.1 70.0 L522.2 71.1 L522.4 71.7 L522.5 71.1 L522.7 68.9 L522.8 64.4 L522.9 58.9 L523.1 53.7 L523.2 49.9 L523.4 48.7 L523.5 50.8 L523.6 56.0 L523.8 63.4 L523.9 71.7 L524.1 79.0 L524.2 83.8 L524.3 85.0 L524.5 79.2 L524.6 67.2 L524.7 53.1 L524.9 38.7 L525.0 37.5 L525.2 38.8 L525.3 43.2 L525.4 53.3 L525.6 68.2 L525.7 83.7 L525.9 98.7 L526.0 88.9 L526.1 77.8 L526.3 66.0 L526.4 60.4 L526.6 61.8 L526.7 64.9 L526.8 69.9 L527.0 75.8 L527.1 82.1 L527.2 87.8 L527.4 91.9 L527.5 93.5 L527.7 92.4 L527.8 88.8 L527.9 83.3 L528.1 76.8 L528.2 70.2 L528.4 63.2 L528.5 55.0 L528.6 48.5 L528.8 49.4 L528.9 52.0 L529.1 72.1 L529.2 93.3 L529.3 78.1 L529.5 63.6 L529.6 68.6 L529.7 73.3 L529.9 78.2 L530.0 83.3 L530.2 87.9 L530.3 91.6 L530.4 93.8 L530.6 94.0 L530.7 91.9 L530.9 87.4 L531.0 80.5 L531.1 71.8 L531.3 65.4 L531.4 60.1 L531.6 55.4 L531.7 51.6 L531.8 49.6 L532.0 49.8 L532.1 52.3 L532.2 57.0 L532.4 63.4 L532.5 71.0 L532.7 79.7 L532.8 86.9 L532.9 92.0 L533.1 94.5 L533.2 94.4 L533.4 92.1 L533.5 88.0 L533.6 82.7 L533.8 76.8 L533.9 70.6 L534.1 64.2 L534.2 57.0 L534.3 48.1 L534.5 40.2 L534.6 33.7 L534.7 28.7 L534.9 32.8 L535.0 38.4 L535.2 45.3 L535.3 53.1 L535.4 58.6 L535.6 62.7 L535.7 66.0 L535.9 70.4 L536.0 77.9 L536.1 84.8 L536.3 91.3 L536.4 97.9 L536.6 92.7 L536.7 88.1 L536.8 84.1 L537.0 80.3 L537.1 80.6 L537.2 82.2 L537.4 82.9 L537.5 82.5 L537.7 80.8 L537.8 73.7 L537.9 65.9 L538.1 57.8 L538.2 49.9 L538.4 51.4 L538.5 54.0 L538.6 57.7 L538.8 62.6 L538.9 63.9 L539.1 65.9 L539.2 68.3 L539.3 97.2 L539.5 71.6 L539.6 39.6 L539.7 73.4 L539.9 74.5 L540.0 75.4 L540.2 76.5 L540.3 77.9 L540.4 79.4 L540.6 80.9 L540.7 82.0 L540.9 82.2 L541.0 81.3 L541.1 79.1 L541.3 75.7 L541.4 71.4 L541.6 66.8 L541.7 62.5 L541.8 59.2 L542.0 53.1 L542.1 44.6 L542.2 37.8 L542.4 49.2 L542.5 61.4 L542.7 72.8 L542.8 82.8 L542.9 91.5 L543.1 84.4 L543.2 75.8 L543.4 69.5 L543.5 66.0" stroke="#000" stroke-width="0.85" stroke-dasharray="5 1 1 1"/>
</g>
<rect x="321.4" y="6.5" width="222.10" height="138.60" fill="none" stroke="#000" stroke-width="0.65"/>
<path d="M321.40 145.1 v-3.0 M321.40 6.5 v3.0 M376.92 145.1 v-1.5 M376.92 6.5 v1.5 M432.45 145.1 v-3.0 M432.45 6.5 v3.0 M487.98 145.1 v-1.5 M487.98 6.5 v1.5 M543.50 145.1 v-3.0 M543.50 6.5 v3.0 M321.4 145.10 h3.0 M543.5 145.10 h-3.0 M321.4 132.50 h1.5 M543.5 132.50 h-1.5 M321.4 119.90 h3.0 M543.5 119.90 h-3.0 M321.4 107.30 h1.5 M543.5 107.30 h-1.5 M321.4 94.70 h3.0 M543.5 94.70 h-3.0 M321.4 82.10 h1.5 M543.5 82.10 h-1.5 M321.4 69.50 h3.0 M543.5 69.50 h-3.0 M321.4 56.90 h1.5 M543.5 56.90 h-1.5 M321.4 44.30 h3.0 M543.5 44.30 h-3.0 M321.4 31.70 h1.5 M543.5 31.70 h-1.5 M321.4 19.10 h3.0 M543.5 19.10 h-3.0 M321.4 6.50 h1.5 M543.5 6.50 h-1.5" stroke="#000" stroke-width="0.75" fill="none"/>
<text x="318.40" y="147.00" font-size="6.0" text-anchor="end" stroke="#000" stroke-width="0.18">&#8722;6000</text>
<text x="318.40" y="121.80" font-size="6.0" text-anchor="end" stroke="#000" stroke-width="0.18">&#8722;4000</text>
<text x="318.40" y="96.60" font-size="6.0" text-anchor="end" stroke="#000" stroke-width="0.18">&#8722;2000</text>
<text x="318.40" y="71.40" font-size="6.0" text-anchor="end" stroke="#000" stroke-width="0.18">0</text>
<text x="318.40" y="46.20" font-size="6.0" text-anchor="end" stroke="#000" stroke-width="0.18">2000</text>
<text x="318.40" y="21.00" font-size="6.0" text-anchor="end" stroke="#000" stroke-width="0.18">4000</text>
<text x="321.40" y="152.80" font-size="6.0" text-anchor="middle" stroke="#000" stroke-width="0.18">0</text>
<text x="432.45" y="152.80" font-size="6.0" text-anchor="middle" stroke="#000" stroke-width="0.18">5</text>
<text x="543.50" y="152.80" font-size="6.0" text-anchor="middle" stroke="#000" stroke-width="0.18">10</text>
<text x="434.65" y="162.70" font-size="7.2" text-anchor="middle" stroke="#000" stroke-width="0.2">Time (s)</text>
<text x="431.65" y="174.10" font-size="10" text-anchor="middle" stroke="#000" stroke-width="0.2"><tspan font-size="8">(</tspan><tspan dx="0.3">b</tspan><tspan font-size="8" dx="0.3">)</tspan></text>
<text x="0" y="0" font-size="7.8" text-anchor="middle" transform="translate(298.6,70.05) rotate(-90)" textLength="77.7" lengthAdjust="spacing" stroke="#000" stroke-width="0.2">Dynamic Tire Load (N)</text>
<rect x="464.3" y="10.1" width="22.5" height="16.1" fill="#fff" stroke="#333" stroke-width="0.8"/>
<path d="M465.3 14.4 H478.8" stroke="#ff2020" stroke-width="0.8"/>
<path d="M465.3 21.9 H478.8" stroke="#000" stroke-width="0.8" stroke-dasharray="2.4 0.9 0.7 0.9"/>
<text x="478.9" y="16.3" font-size="6.1" text-anchor="start" stroke="#000" stroke-width="0.18">S3</text>
<text x="479.1" y="23.9" font-size="6.1" text-anchor="start" stroke="#000" stroke-width="0.18">T0</text>
<clipPath id="clipc"><rect x="183.5" y="185.6" width="222.0" height="139.29999999999998"/></clipPath>
<g clip-path="url(#clipc)" fill="none" stroke-linejoin="round">
<path d="M183.5 255.6 L183.6 253.8 L183.9 251.0 L184.3 247.6 L184.8 244.0 L185.3 240.9 L185.7 238.6 L186.1 237.7 L186.5 238.6 L186.8 242.2 L187.1 248.3 L187.3 256.0 L187.5 264.5 L187.7 272.8 L187.9 280.1 L188.1 285.5 L188.3 288.0 L188.5 287.1 L188.7 283.3 L188.9 277.6 L189.1 270.8 L189.3 264.0 L189.6 257.9 L189.8 253.6 L190.0 251.9 L190.2 253.4 L190.5 257.3 L190.7 262.9 L191.0 269.4 L191.2 275.8 L191.5 281.5 L191.7 285.5 L192.0 287.0 L192.3 285.6 L192.5 282.0 L192.8 276.8 L193.1 270.7 L193.3 264.5 L193.6 258.8 L193.9 254.4 L194.2 252.0 L194.5 252.0 L194.9 253.9 L195.2 257.0 L195.6 260.7 L195.9 264.4 L196.3 267.2 L196.7 268.7 L197.0 268.2 L197.3 265.1 L197.7 259.8 L198.0 253.1 L198.4 245.7 L198.7 238.3 L199.1 231.6 L199.4 226.4 L199.7 223.3 L200.0 222.7 L200.3 223.9 L200.6 226.4 L200.9 229.8 L201.2 233.3 L201.5 236.6 L201.7 239.0 L202.0 240.0 L202.3 239.3 L202.5 237.4 L202.8 234.7 L203.1 231.7 L203.3 228.8 L203.6 226.4 L203.8 225.2 L204.0 225.4 L204.2 227.6 L204.4 231.6 L204.5 236.7 L204.7 242.4 L204.9 248.0 L205.0 252.9 L205.1 256.6 L205.3 258.4 L205.5 257.8 L205.6 255.2 L205.7 251.3 L205.9 246.8 L206.0 242.3 L206.2 238.5 L206.3 236.2 L206.5 236.0 L206.7 238.5 L206.8 243.3 L207.0 249.5 L207.2 256.5 L207.4 263.4 L207.5 269.5 L207.7 273.9 L207.9 276.0 L208.1 275.2 L208.3 271.9 L208.5 267.1 L208.7 261.4 L208.9 255.7 L209.1 250.6 L209.3 247.0 L209.5 245.6 L209.7 247.0 L209.9 250.6 L210.1 255.7 L210.3 261.5 L210.5 267.2 L210.6 272.0 L210.8 275.1 L211.0 275.8 L211.2 273.2 L211.3 267.8 L211.5 260.5 L211.7 252.4 L211.8 244.5 L212.0 237.9 L212.1 233.4 L212.3 232.3 L212.5 235.2 L212.6 241.4 L212.8 249.9 L212.9 259.6 L213.1 269.5 L213.2 278.4 L213.5 285.2 L213.7 289.0 L214.0 289.4 L214.3 287.4 L214.7 283.6 L215.1 278.7 L215.5 273.4 L215.9 268.4 L216.2 264.4 L216.5 262.0 L216.7 261.4 L217.0 262.0 L217.1 263.3 L217.3 265.1 L217.5 266.8 L217.6 268.1 L217.8 268.7 L218.0 268.0 L218.2 265.8 L218.5 262.2 L218.7 257.8 L219.0 253.0 L219.2 248.3 L219.5 244.3 L219.7 241.3 L220.0 240.0 L220.3 240.6 L220.5 242.9 L220.8 246.4 L221.0 250.4 L221.3 254.6 L221.5 258.2 L221.8 260.9 L222.0 262.0 L222.2 261.3 L222.5 259.1 L222.7 256.0 L223.0 252.3 L223.2 248.7 L223.4 245.6 L223.6 243.5 L223.8 242.8 L224.0 244.0 L224.1 246.6 L224.2 250.2 L224.4 254.4 L224.5 258.5 L224.6 262.2 L224.7 264.8 L224.9 266.0 L225.1 265.3 L225.3 263.1 L225.5 259.9 L225.8 256.1 L226.0 252.5 L226.2 249.4 L226.4 247.4 L226.6 247.0 L226.8 248.6 L226.9 251.9 L227.0 256.2 L227.1 261.2 L227.2 266.2 L227.3 270.6 L227.5 274.1 L227.7 276.0 L228.0 276.2 L228.3 275.1 L228.7 273.0 L229.0 270.4 L229.4 267.7 L229.8 265.1 L230.2 263.1 L230.5 262.0 L230.8 262.1 L231.0 263.0 L231.3 264.5 L231.5 266.1 L231.7 267.7 L232.0 268.7 L232.2 268.9 L232.5 268.0 L232.8 265.5 L233.1 261.5 L233.4 256.7 L233.8 251.4 L234.1 246.2 L234.4 241.5 L234.7 237.9 L235.0 235.8 L235.3 235.6 L235.5 236.9 L235.8 239.3 L236.0 242.2 L236.2 245.2 L236.5 247.8 L236.7 249.6 L237.0 250.0 L237.3 248.7 L237.6 246.0 L238.0 242.4 L238.3 238.5 L238.6 234.7 L239.0 231.6 L239.3 229.7 L239.6 229.5 L239.9 231.5 L240.2 235.5 L240.5 240.7 L240.7 246.6 L241.0 252.5 L241.2 257.8 L241.5 261.8 L241.7 264.0 L241.9 264.0 L242.1 262.1 L242.2 259.1 L242.4 255.4 L242.5 251.8 L242.7 248.6 L242.8 246.6 L243.0 246.3 L243.2 248.0 L243.4 251.4 L243.5 255.9 L243.7 260.9 L243.9 266.0 L244.1 270.5 L244.3 274.1 L244.5 276.0 L244.7 276.2 L244.9 275.0 L245.1 272.9 L245.3 270.2 L245.5 267.4 L245.6 264.8 L245.8 262.9 L246.0 262.0 L246.2 262.4 L246.3 263.9 L246.5 266.0 L246.6 268.3 L246.8 270.5 L246.9 272.2 L247.1 272.9 L247.2 272.3 L247.3 269.5 L247.5 264.7 L247.6 258.6 L247.7 252.1 L247.9 246.1 L248.0 241.4 L248.1 238.8 L248.3 239.3 L248.5 243.7 L248.7 251.6 L248.8 261.9 L249.0 273.4 L249.2 284.9 L249.4 295.4 L249.6 303.7 L249.8 308.6 L250.0 309.9 L250.1 308.4 L250.3 305.0 L250.4 300.4 L250.6 295.4 L250.7 290.6 L250.8 286.9 L251.0 285.0 L251.2 285.0 L251.3 286.4 L251.4 288.6 L251.6 291.1 L251.7 293.7 L251.9 295.6 L252.1 296.5 L252.3 296.0 L252.5 293.6 L252.8 289.7 L253.1 284.7 L253.4 279.2 L253.7 273.7 L254.0 268.6 L254.3 264.5 L254.5 262.0 L254.7 261.3 L254.8 262.2 L255.0 264.0 L255.1 266.3 L255.2 268.6 L255.3 270.3 L255.4 271.0 L255.5 270.0 L255.6 266.7 L255.8 261.3 L255.9 254.6 L256.0 247.5 L256.2 240.7 L256.3 235.1 L256.5 231.5 L256.6 230.7 L256.7 233.6 L256.9 239.6 L257.0 247.8 L257.2 257.2 L257.3 266.6 L257.5 275.0 L257.6 281.4 L257.8 284.8 L258.0 284.8 L258.2 282.4 L258.4 278.2 L258.7 272.8 L258.9 267.2 L259.1 261.8 L259.3 257.5 L259.5 255.0 L259.7 254.4 L259.8 255.0 L259.9 256.5 L260.0 258.5 L260.1 260.4 L260.3 261.9 L260.4 262.6 L260.5 262.0 L260.6 259.7 L260.8 255.9 L260.9 251.1 L261.0 246.0 L261.2 241.1 L261.3 236.8 L261.5 233.9 L261.7 232.8 L261.9 234.1 L262.2 237.4 L262.5 242.1 L262.8 247.5 L263.1 252.9 L263.4 257.5 L263.8 260.8 L264.1 262.0 L264.4 260.5 L264.8 256.9 L265.1 251.8 L265.4 246.0 L265.8 240.3 L266.1 235.4 L266.5 232.2 L266.9 231.4 L267.3 233.4 L267.8 237.8 L268.2 243.8 L268.7 250.7 L269.2 257.6 L269.6 264.0 L270.0 269.1 L270.4 272.0 L270.7 272.6 L271.0 271.4 L271.2 269.0 L271.4 265.9 L271.7 262.7 L271.9 259.9 L272.1 258.2 L272.3 258.0 L272.5 259.7 L272.8 263.0 L273.1 267.2 L273.3 272.0 L273.6 276.6 L273.8 280.6 L274.1 283.5 L274.3 284.8 L274.5 284.1 L274.7 281.8 L274.9 278.3 L275.1 274.3 L275.3 270.2 L275.4 266.4 L275.6 263.5 L275.8 262.0 L276.0 262.3 L276.1 264.2 L276.3 267.1 L276.5 270.2 L276.7 273.2 L276.8 275.2 L277.1 275.8 L277.3 274.3 L277.6 270.0 L277.9 263.3 L278.3 254.9 L278.6 245.8 L279.0 236.7 L279.3 228.5 L279.6 222.0 L279.9 218.0 L280.1 216.9 L280.3 218.1 L280.4 220.9 L280.5 224.6 L280.6 228.6 L280.8 232.2 L280.9 234.9 L281.0 236.0 L281.1 235.1 L281.3 232.6 L281.4 229.2 L281.5 225.4 L281.7 221.9 L281.8 219.2 L282.0 218.0 L282.2 218.9 L282.4 222.5 L282.7 228.4 L282.9 236.0 L283.2 244.3 L283.5 252.7 L283.8 260.3 L284.1 266.3 L284.3 270.0 L284.5 271.1 L284.8 270.4 L285.0 268.2 L285.2 265.3 L285.4 261.9 L285.6 258.8 L285.8 256.3 L286.0 255.0 L286.2 255.0 L286.3 255.9 L286.4 257.4 L286.5 259.1 L286.6 260.7 L286.7 261.9 L286.9 262.5 L287.0 262.0 L287.1 259.9 L287.3 256.3 L287.4 251.7 L287.6 246.9 L287.8 242.4 L288.0 238.9 L288.2 237.2 L288.5 237.7 L288.9 241.6 L289.3 248.6 L289.8 257.6 L290.3 267.4 L290.8 277.0 L291.3 285.1 L291.8 290.7 L292.2 292.5 L292.6 289.8 L292.9 283.2 L293.2 274.1 L293.4 263.5 L293.7 252.7 L294.0 242.8 L294.2 235.1 L294.5 230.7 L294.8 229.9 L295.1 231.8 L295.4 235.5 L295.7 240.3 L296.0 245.5 L296.3 250.1 L296.6 253.5 L296.9 254.8 L297.2 253.9 L297.5 251.4 L297.9 247.8 L298.2 243.7 L298.5 239.5 L298.8 235.7 L299.1 232.8 L299.4 231.4 L299.6 231.6 L299.9 233.0 L300.1 235.3 L300.3 238.0 L300.4 240.8 L300.6 243.3 L300.8 245.2 L301.0 246.0 L301.2 245.5 L301.4 244.0 L301.5 241.8 L301.7 239.3 L301.9 236.9 L302.1 235.0 L302.3 234.0 L302.5 234.2 L302.8 236.0 L303.1 239.2 L303.4 243.2 L303.8 247.7 L304.1 252.3 L304.5 256.5 L304.8 259.9 L305.0 262.0 L305.2 262.6 L305.3 261.8 L305.4 260.2 L305.5 258.2 L305.6 256.4 L305.7 255.1 L305.8 254.8 L306.0 256.0 L306.2 259.3 L306.4 264.5 L306.7 270.9 L306.9 277.8 L307.2 284.4 L307.5 290.1 L307.7 294.2 L308.0 296.0 L308.2 295.1 L308.5 292.0 L308.7 287.3 L309.0 281.7 L309.2 275.7 L309.5 270.1 L309.7 265.3 L310.0 262.0 L310.3 260.3 L310.6 259.7 L310.8 259.8 L311.1 260.3 L311.4 260.8 L311.7 261.0 L312.0 260.5 L312.3 259.0 L312.6 256.0 L312.9 251.7 L313.1 246.6 L313.4 241.2 L313.7 236.2 L313.9 231.9 L314.2 229.0 L314.4 228.0 L314.6 229.4 L314.8 232.8 L315.0 237.7 L315.2 243.4 L315.3 249.2 L315.5 254.5 L315.6 258.6 L315.8 261.0 L316.0 261.6 L316.1 260.9 L316.3 259.4 L316.4 257.2 L316.5 254.7 L316.7 252.1 L316.8 249.8 L317.0 248.0 L317.2 246.3 L317.4 244.4 L317.5 242.4 L317.7 240.5 L317.9 238.9 L318.1 237.8 L318.3 237.3 L318.5 237.7 L318.7 239.1 L318.9 241.5 L319.1 244.6 L319.3 248.1 L319.5 251.8 L319.6 255.6 L319.8 259.0 L320.0 262.0 L320.2 264.7 L320.3 267.6 L320.5 270.4 L320.7 273.1 L320.8 275.6 L321.0 277.6 L321.1 279.1 L321.3 280.0 L321.5 279.8 L321.6 278.6 L321.8 276.7 L321.9 274.4 L322.1 272.2 L322.2 270.5 L322.4 269.7 L322.5 270.0 L322.6 272.3 L322.7 276.4 L322.8 281.7 L322.9 287.2 L323.0 292.4 L323.1 296.3 L323.3 298.2 L323.4 297.3 L323.5 292.6 L323.7 284.4 L323.9 274.0 L324.0 262.4 L324.2 251.0 L324.4 241.0 L324.6 233.6 L324.8 230.0 L325.0 231.0 L325.3 235.8 L325.6 243.2 L325.9 251.9 L326.1 260.9 L326.4 268.8 L326.7 274.7 L326.9 277.1 L327.1 275.8 L327.3 271.5 L327.5 265.4 L327.6 258.1 L327.8 250.7 L327.9 243.9 L328.1 238.7 L328.3 236.0 L328.5 235.9 L328.7 237.8 L328.9 240.9 L329.2 244.9 L329.4 249.2 L329.6 253.1 L329.8 256.3 L330.0 258.0 L330.2 258.2 L330.3 257.4 L330.4 255.8 L330.6 253.9 L330.7 252.1 L330.8 250.5 L330.9 249.7 L331.0 250.0 L331.1 251.7 L331.2 254.5 L331.2 258.1 L331.3 262.1 L331.4 265.9 L331.5 269.3 L331.6 271.8 L331.7 272.9 L331.9 272.4 L332.0 270.6 L332.2 267.8 L332.4 264.6 L332.7 261.3 L332.9 258.3 L333.1 256.1 L333.3 255.0 L333.5 255.5 L333.7 257.3 L333.8 259.9 L334.0 262.8 L334.2 265.5 L334.4 267.4 L334.6 268.2 L334.9 267.3 L335.2 264.0 L335.5 258.5 L335.9 251.6 L336.3 244.1 L336.7 236.8 L337.0 230.4 L337.4 225.8 L337.7 223.7 L338.0 224.7 L338.2 228.4 L338.4 233.9 L338.6 240.3 L338.8 246.7 L339.0 252.4 L339.2 256.5 L339.5 258.0 L339.8 256.5 L340.2 252.5 L340.7 247.0 L341.1 240.6 L341.6 234.3 L342.0 228.8 L342.4 225.0 L342.8 223.7 L343.1 225.3 L343.5 229.3 L343.8 234.9 L344.0 241.3 L344.3 248.0 L344.6 254.1 L344.8 259.0 L345.0 262.0 L345.2 262.9 L345.3 262.2 L345.5 260.5 L345.6 258.1 L345.7 255.7 L345.8 253.5 L345.9 252.1 L346.0 252.0 L346.1 253.5 L346.2 256.5 L346.3 260.2 L346.4 264.3 L346.6 268.1 L346.7 271.0 L346.8 272.5 L347.0 272.0 L347.2 268.8 L347.4 263.0 L347.6 255.6 L347.9 247.5 L348.1 239.5 L348.4 232.5 L348.6 227.4 L348.9 225.1 L349.2 226.0 L349.4 229.6 L349.7 234.9 L350.0 241.4 L350.3 248.1 L350.5 254.2 L350.8 259.2 L351.0 262.0 L351.2 262.5 L351.3 261.2 L351.4 258.8 L351.5 255.8 L351.7 252.8 L351.8 250.5 L351.9 249.3 L352.0 250.0 L352.1 253.0 L352.3 258.0 L352.4 264.3 L352.6 271.2 L352.7 278.0 L352.9 283.9 L353.1 288.3 L353.3 290.4 L353.5 289.9 L353.8 287.3 L354.0 283.2 L354.3 278.2 L354.6 273.0 L354.8 268.2 L355.1 264.3 L355.3 262.0 L355.5 261.4 L355.7 261.8 L355.8 263.0 L356.0 264.7 L356.1 266.6 L356.2 268.3 L356.4 269.5 L356.5 270.0 L356.6 269.5 L356.8 268.3 L356.9 266.6 L357.0 264.8 L357.1 263.1 L357.2 261.9 L357.4 261.4 L357.5 262.0 L357.6 264.1 L357.7 267.6 L357.9 272.0 L358.0 276.8 L358.1 281.5 L358.3 285.6 L358.4 288.5 L358.6 289.7 L358.8 288.7 L359.0 285.7 L359.2 281.4 L359.5 276.5 L359.7 271.8 L360.0 268.0 L360.2 265.8 L360.5 266.0 L360.8 269.5 L361.1 276.2 L361.4 284.8 L361.8 294.1 L362.1 303.0 L362.5 310.2 L362.9 314.5 L363.2 314.8 L363.6 310.1 L363.9 301.0 L364.3 289.0 L364.7 275.4 L365.1 261.5 L365.4 248.8 L365.7 238.5 L366.0 232.0 L366.2 229.6 L366.4 230.2 L366.5 232.9 L366.5 236.9 L366.6 241.3 L366.7 245.4 L366.8 248.3 L367.0 249.2 L367.2 248.0 L367.5 245.4 L367.7 241.8 L368.0 237.8 L368.3 233.8 L368.6 230.1 L368.9 227.4 L369.1 226.0 L369.3 226.2 L369.5 227.8 L369.6 230.3 L369.8 233.1 L370.0 236.0 L370.1 238.4 L370.3 239.9 L370.5 240.0 L370.7 238.4 L371.0 235.4 L371.3 231.4 L371.6 227.0 L371.8 222.6 L372.1 218.7 L372.4 215.9 L372.6 214.7 L372.8 215.3 L373.0 217.5 L373.1 220.6 L373.3 224.4 L373.4 228.2 L373.5 231.5 L373.7 234.0 L373.8 235.0 L373.9 234.0 L374.1 231.1 L374.2 227.1 L374.3 222.8 L374.4 218.9 L374.6 216.3 L374.8 215.5 L375.0 217.5 L375.3 223.4 L375.6 232.9 L376.0 244.8 L376.3 257.6 L376.7 270.2 L377.1 281.1 L377.5 288.9 L377.8 292.5 L378.1 290.8 L378.4 284.6 L378.7 275.3 L378.9 264.5 L379.2 253.4 L379.4 243.5 L379.7 236.1 L379.9 232.8 L380.1 234.2 L380.4 239.5 L380.6 247.2 L380.8 256.2 L381.0 265.1 L381.2 272.6 L381.5 277.5 L381.7 278.5 L381.9 274.8 L382.2 267.3 L382.4 257.2 L382.6 245.8 L382.9 234.1 L383.1 223.6 L383.4 215.3 L383.7 210.5 L384.0 209.2 L384.4 210.4 L384.7 213.3 L385.1 217.6 L385.5 222.5 L385.8 227.6 L386.2 232.3 L386.5 236.0 L386.8 239.3 L387.1 243.0 L387.4 246.8 L387.7 250.5 L388.0 253.8 L388.2 256.5 L388.5 258.3 L388.7 259.0 L388.9 257.8 L389.0 254.7 L389.2 250.3 L389.3 245.5 L389.4 241.0 L389.5 237.4 L389.7 235.6 L390.0 236.3 L390.3 240.2 L390.8 247.0 L391.2 255.7 L391.7 265.3 L392.2 274.9 L392.7 283.4 L393.1 290.0 L393.5 293.6 L393.8 293.9 L394.1 291.6 L394.4 287.6 L394.6 282.4 L394.9 276.8 L395.1 271.6 L395.3 267.4 L395.5 265.0 L395.7 264.6 L395.9 265.5 L396.1 267.3 L396.3 269.6 L396.5 271.7 L396.6 273.3 L396.8 273.9 L397.0 273.0 L397.2 270.1 L397.4 265.3 L397.5 259.5 L397.7 253.1 L397.9 246.9 L398.1 241.5 L398.2 237.5 L398.4 235.6 L398.6 236.1 L398.8 238.4 L399.0 242.2 L399.1 246.7 L399.3 251.5 L399.5 256.0 L399.7 259.7 L399.8 262.0 L399.9 262.7 L400.0 262.1 L400.1 260.8 L400.2 259.2 L400.3 257.7 L400.3 256.7 L400.4 256.6 L400.5 258.0 L400.6 261.5 L400.6 267.0 L400.7 273.7 L400.7 280.8 L400.8 287.5 L400.9 293.0 L401.0 296.6 L401.2 297.3 L401.5 294.5 L401.8 288.7 L402.1 280.7 L402.5 271.6 L402.9 262.3 L403.3 253.9 L403.7 247.2 L404.0 243.3 L404.3 242.3 L404.6 243.3 L404.8 245.8 L405.1 249.3 L405.3 253.2 L405.5 256.9 L405.5 260.1 L405.5 262.0" stroke="#ff0000" stroke-width="0.85"/>
<path d="M183.5 254.2 L183.5 251.0 L184.4 246.5 L184.5 252.5 L184.7 253.2 L185.8 241.2 L185.3 235.3 L185.5 231.6 L186.9 237.9 L187.7 248.9 L187.9 257.5 L187.7 262.4 L187.5 265.9 L187.4 270.0 L187.5 275.3 L187.9 281.1 L188.4 285.4 L188.8 285.5 L188.9 282.0 L188.7 276.9 L188.7 272.1 L189.2 267.4 L190.0 262.3 L190.6 257.7 L190.6 255.0 L190.3 254.3 L190.2 253.6 L190.5 254.2 L190.9 260.9 L191.3 273.8 L191.7 284.4 L192.2 284.1 L192.5 276.1 L192.6 271.2 L192.6 272.7 L192.6 273.6 L192.6 267.4 L192.8 257.3 L193.6 252.0 L194.7 253.2 L195.2 253.7 L194.5 249.5 L194.3 248.8 L195.7 256.6 L196.2 263.7 L195.4 268.4 L195.8 273.3 L197.4 271.6 L198.0 266.2 L197.1 262.4 L196.7 261.4 L197.6 261.8 L198.7 255.6 L199.2 242.1 L199.8 229.6 L200.4 221.1 L200.2 219.5 L199.6 224.1 L199.5 227.0 L200.1 224.7 L200.8 223.0 L201.6 226.5 L202.3 233.4 L202.5 239.5 L202.1 242.7 L201.8 242.1 L202.2 238.4 L203.2 233.5 L203.9 229.0 L203.6 226.0 L202.9 226.1 L202.9 230.2 L203.7 236.2 L204.7 241.1 L205.2 243.2 L205.3 242.9 L205.2 242.2 L205.0 242.7 L204.8 245.4 L204.9 249.8 L205.0 254.7 L205.2 257.5 L205.4 256.9 L205.6 253.4 L206.0 248.3 L206.3 243.6 L206.6 240.7 L206.8 240.5 L206.8 243.2 L206.7 248.3 L206.5 254.3 L206.4 260.1 L206.7 264.7 L207.2 268.1 L207.7 270.9 L208.0 273.9 L208.2 277.5 L208.2 280.5 L208.3 280.8 L208.5 275.6 L208.7 265.3 L208.9 253.8 L209.0 246.3 L209.3 244.6 L209.7 246.8 L210.1 250.1 L210.4 252.1 L210.5 253.2 L210.4 255.0 L210.3 259.2 L210.5 265.4 L211.0 271.8 L211.6 276.0 L212.0 276.3 L212.1 272.8 L212.0 266.2 L211.8 257.5 L211.5 247.7 L211.4 238.3 L211.5 230.9 L211.8 227.5 L212.3 229.2 L212.7 235.2 L213.0 244.3 L213.2 255.5 L213.1 267.8 L213.1 279.5 L213.4 287.3 L214.2 286.9 L214.8 278.9 L214.4 275.8 L214.8 279.9 L215.8 278.3 L214.8 271.0 L214.3 262.9 L215.9 260.2 L217.3 260.8 L217.8 260.7 L217.7 261.2 L217.4 263.3 L217.3 266.8 L217.4 270.5 L217.8 273.0 L218.4 272.6 L219.1 268.0 L219.3 260.5 L218.8 254.1 L218.3 250.4 L218.5 246.6 L219.3 241.0 L220.0 235.9 L220.2 232.9 L220.0 230.5 L219.9 228.4 L220.1 229.7 L220.5 236.7 L221.0 245.7 L221.3 250.5 L221.3 251.6 L221.3 255.3 L221.8 262.8 L222.7 267.6 L223.6 263.6 L223.8 253.2 L223.5 245.8 L223.2 245.6 L223.2 248.4 L223.3 248.6 L223.3 246.2 L223.3 244.9 L223.4 246.7 L223.6 251.2 L224.0 257.1 L224.4 263.0 L224.9 267.8 L225.4 270.1 L225.9 269.2 L226.0 265.7 L225.8 262.3 L225.5 259.4 L225.3 255.5 L225.5 251.3 L226.0 249.2 L226.3 249.3 L226.5 249.6 L226.7 250.4 L226.9 252.7 L227.1 256.7 L227.3 262.0 L227.5 267.9 L227.8 274.0 L228.0 279.3 L228.2 281.2 L228.4 276.8 L228.4 276.2 L228.1 287.2 L229.0 282.9 L230.5 263.7 L230.0 262.6 L229.4 266.3 L230.4 262.2 L231.2 259.1 L231.3 259.0 L231.1 260.3 L231.2 263.6 L231.8 269.2 L232.5 275.5 L232.7 278.9 L232.4 276.2 L232.4 267.7 L233.0 259.5 L233.7 254.3 L234.0 245.9 L234.5 236.4 L234.7 234.8 L234.5 236.3 L234.4 232.4 L234.6 227.4 L235.2 228.7 L236.0 235.3 L236.8 241.0 L237.3 241.3 L237.3 238.9 L237.1 241.1 L236.9 248.8 L236.9 251.8 L237.4 246.7 L238.4 246.0 L238.9 248.1 L238.6 240.6 L238.5 228.3 L239.1 224.7 L239.9 232.6 L240.5 240.9 L240.8 239.9 L240.8 237.9 L240.7 246.7 L240.6 260.5 L240.7 266.7 L241.1 262.7 L241.8 255.5 L242.6 250.8 L243.1 250.3 L243.3 252.3 L243.2 254.9 L242.8 256.7 L242.4 256.8 L242.1 255.1 L242.2 252.1 L242.7 249.9 L243.4 250.9 L243.8 255.6 L244.0 262.4 L244.0 269.2 L244.1 274.7 L244.5 278.9 L245.0 282.1 L245.4 283.9 L245.6 283.2 L245.5 279.6 L245.2 274.0 L244.9 268.8 L244.9 265.2 L245.2 263.1 L245.8 261.9 L246.4 261.6 L246.8 263.0 L246.9 266.3 L246.8 271.1 L246.5 275.8 L246.4 278.8 L246.5 278.7 L246.9 274.7 L247.4 267.1 L247.8 257.6 L248.2 248.0 L248.3 239.7 L248.3 233.9 L248.2 231.6 L248.0 233.3 L247.9 239.5 L248.1 249.7 L248.6 261.6 L249.2 271.5 L249.8 276.5 L250.1 276.8 L250.3 275.6 L250.2 276.9 L250.0 281.2 L249.7 286.8 L249.5 291.8 L249.4 294.5 L249.5 294.2 L249.8 291.0 L250.1 285.8 L250.6 280.2 L251.3 276.2 L251.8 275.7 L252.3 278.9 L252.5 284.5 L252.4 291.0 L252.1 296.2 L251.7 298.0 L251.5 295.3 L251.8 289.3 L252.6 284.1 L253.3 283.1 L253.6 282.7 L253.6 277.3 L253.5 269.6 L253.6 264.7 L254.1 260.6 L254.5 255.7 L254.7 252.5 L254.8 252.4 L255.0 254.9 L255.1 259.0 L255.4 263.5 L255.6 267.7 L255.9 270.6 L256.2 271.4 L256.4 268.2 L256.4 261.3 L256.3 251.9 L256.2 241.8 L256.0 232.7 L256.0 225.9 L256.1 222.2 L256.4 221.8 L256.7 224.8 L257.0 230.5 L257.2 238.1 L257.4 247.5 L257.5 258.4 L257.7 270.1 L257.9 280.4 L258.1 286.0 L258.1 283.7 L258.0 273.9 L258.1 263.2 L258.4 261.2 L259.0 269.1 L259.3 277.6 L259.2 277.5 L259.1 269.2 L259.2 258.9 L259.5 250.9 L260.0 246.7 L260.5 246.0 L260.8 247.9 L261.0 251.5 L261.1 255.8 L260.8 259.5 L260.5 260.8 L260.3 259.1 L260.3 255.2 L260.5 250.2 L261.0 245.0 L261.7 240.7 L262.2 237.9 L262.4 236.6 L262.1 236.6 L262.3 237.9 L262.7 240.1 L262.8 244.9 L262.7 256.3 L263.2 268.7 L263.7 269.8 L264.2 263.1 L265.0 260.6 L265.1 262.8 L265.0 259.7 L265.5 248.5 L265.6 240.3 L265.5 239.3 L267.3 236.3 L268.3 238.6 L266.9 241.3 L267.4 231.6 L268.6 247.9 L268.5 260.8 L268.7 257.8 L269.5 273.0 L270.8 279.7 L271.3 278.1 L271.0 280.3 L270.9 281.9 L271.1 278.9 L271.4 273.2 L271.5 267.7 L271.4 263.4 L271.5 259.7 L272.1 255.9 L273.0 253.2 L273.5 254.3 L273.3 260.4 L273.2 268.8 L273.7 275.3 L274.4 278.3 L274.5 279.5 L274.1 280.9 L273.9 282.5 L274.2 282.9 L274.9 280.5 L275.6 275.2 L275.8 268.5 L275.8 262.6 L275.8 259.3 L276.0 258.8 L276.5 259.8 L277.0 261.1 L277.3 262.6 L277.2 265.1 L276.8 269.2 L276.4 274.6 L276.1 278.9 L276.5 278.6 L277.7 271.2 L278.6 259.1 L278.0 246.2 L278.4 234.8 L280.1 227.7 L280.1 223.7 L279.0 218.5 L278.8 212.1 L279.4 207.9 L280.3 207.1 L281.0 209.3 L281.5 213.7 L281.8 219.1 L281.9 224.7 L281.8 229.5 L281.6 232.5 L281.4 232.9 L281.2 231.0 L281.2 227.8 L281.3 224.4 L281.5 221.9 L281.7 221.2 L281.9 222.5 L282.0 225.5 L282.3 230.0 L282.9 236.9 L283.2 246.8 L283.3 255.7 L283.4 260.2 L283.8 263.4 L284.1 268.8 L284.4 274.9 L285.1 278.6 L285.8 278.7 L286.0 275.3 L285.6 269.8 L284.8 264.7 L284.3 261.6 L284.3 260.1 L284.8 259.2 L285.5 258.4 L286.3 257.9 L287.0 257.9 L287.6 258.4 L288.0 259.2 L288.4 260.1 L288.5 260.7 L288.3 260.8 L287.8 259.5 L287.2 256.5 L286.7 252.4 L286.5 247.5 L286.7 242.6 L287.6 238.7 L288.6 237.7 L289.1 241.2 L288.5 246.7 L289.0 248.2 L290.8 255.8 L290.2 271.4 L290.9 277.0 L291.8 288.1 L291.9 287.1 L292.3 279.2 L292.2 279.6 L292.3 280.2 L293.2 274.4 L294.1 262.8 L294.4 248.2 L294.2 234.6 L294.1 226.5 L294.5 226.4 L294.7 229.2 L294.8 227.2 L295.3 223.0 L296.2 226.5 L296.1 241.7 L295.1 257.8 L295.4 260.8 L297.7 254.9 L299.6 255.7 L298.6 261.4 L296.9 257.7 L297.2 249.7 L298.6 246.4 L299.3 242.4 L299.5 235.5 L299.7 231.7 L299.9 232.8 L300.0 236.4 L300.0 240.4 L300.0 243.8 L300.0 246.0 L300.0 246.5 L300.3 245.3 L300.9 243.3 L301.6 242.1 L302.2 242.0 L302.5 242.2 L302.4 241.6 L302.1 239.6 L301.8 236.5 L301.8 233.8 L302.4 234.6 L303.2 241.2 L303.6 248.9 L303.4 249.3 L303.6 246.2 L304.4 249.3 L304.7 256.9 L305.2 262.0 L305.8 264.1 L306.0 264.1 L305.8 262.5 L305.4 259.8 L305.1 256.5 L304.9 253.3 L304.7 250.5 L304.8 248.6 L305.3 248.1 L306.3 250.3 L307.2 256.4 L307.2 267.0 L306.6 281.4 L306.6 294.3 L307.5 299.5 L308.3 298.2 L308.4 297.0 L308.2 298.7 L308.4 299.6 L309.0 293.8 L309.5 281.4 L309.8 268.9 L309.8 261.6 L310.0 257.9 L310.2 255.6 L310.1 256.6 L309.9 260.5 L310.2 261.7 L311.0 260.0 L311.8 260.0 L312.1 261.5 L312.2 262.0 L312.5 262.3 L313.2 262.1 L313.6 259.5 L313.4 251.6 L313.2 237.5 L313.4 222.8 L313.7 214.6 L313.9 214.2 L314.0 217.4 L314.4 221.2 L315.0 224.7 L315.6 228.6 L316.0 233.7 L316.1 240.0 L316.1 246.9 L316.0 253.8 L316.0 259.9 L315.9 264.8 L315.9 268.1 L315.9 269.0 L316.0 267.1 L316.1 262.5 L316.3 256.0 L316.6 249.3 L317.0 244.4 L317.5 242.4 L317.9 242.8 L318.2 243.7 L318.3 242.9 L318.2 240.2 L318.1 237.8 L318.0 237.9 L318.1 240.5 L318.4 243.7 L318.8 245.8 L319.1 247.0 L319.2 248.6 L319.4 251.3 L319.6 254.1 L320.0 256.2 L320.4 258.1 L320.7 261.0 L320.8 265.9 L321.0 271.8 L321.2 277.6 L321.5 282.7 L321.7 287.1 L321.8 291.3 L321.7 295.2 L321.5 297.9 L321.4 298.1 L321.3 294.9 L321.3 288.1 L321.6 279.0 L321.9 269.7 L322.2 262.5 L322.6 258.9 L322.8 259.7 L323.0 264.1 L323.1 270.6 L323.2 278.2 L323.2 285.9 L323.3 292.8 L323.3 297.5 L323.5 298.4 L323.7 293.3 L324.1 282.2 L324.4 267.4 L324.6 252.6 L324.6 241.9 L324.6 237.9 L324.6 239.1 L324.7 241.2 L325.0 240.4 L325.4 237.8 L325.6 240.4 L325.7 249.6 L326.0 260.2 L326.6 268.1 L327.1 272.2 L327.3 272.8 L327.2 270.5 L327.1 266.5 L327.1 260.9 L327.3 253.8 L327.6 245.8 L328.1 238.1 L328.5 232.0 L328.8 228.6 L328.9 227.8 L328.9 229.2 L329.1 233.4 L329.6 241.0 L330.0 249.3 L329.9 254.9 L329.5 256.8 L329.1 256.4 L329.1 254.8 L329.2 252.7 L329.6 250.5 L330.1 248.2 L330.5 246.4 L330.9 245.4 L331.3 245.8 L331.6 247.8 L331.8 251.4 L331.9 255.7 L332.0 260.4 L332.0 265.3 L332.1 269.8 L332.1 273.7 L332.0 276.1 L332.0 276.2 L331.9 273.7 L332.0 269.5 L332.3 265.2 L332.9 261.2 L333.4 257.8 L333.5 256.0 L333.2 256.6 L332.6 258.5 L332.4 259.9 L332.6 260.4 L333.3 260.9 L334.2 262.5 L335.0 265.3 L335.3 268.1 L335.0 268.6 L334.6 265.2 L335.2 260.3 L336.3 258.6 L336.4 254.7 L336.5 240.6 L337.0 230.5 L337.0 235.7 L337.0 238.5 L337.6 232.2 L338.2 227.4 L338.7 228.4 L338.9 233.6 L339.0 240.9 L338.8 249.1 L338.8 256.6 L338.9 261.7 L339.5 262.6 L339.9 259.6 L339.9 256.0 L340.8 256.6 L341.9 246.8 L341.5 232.8 L341.5 237.3 L342.5 234.5 L343.1 231.4 L343.5 233.2 L343.7 233.1 L343.7 235.7 L343.6 244.2 L343.8 252.5 L344.2 256.6 L345.0 258.8 L345.8 260.2 L346.2 259.9 L346.3 257.6 L346.2 254.4 L346.0 251.4 L345.8 249.2 L345.7 248.6 L345.7 250.2 L345.8 254.5 L346.0 260.9 L346.4 267.8 L346.8 273.8 L347.1 278.1 L347.3 279.8 L347.3 278.2 L347.2 273.7 L346.9 268.6 L346.7 265.7 L346.8 266.3 L347.3 266.0 L347.7 259.1 L348.1 246.2 L348.7 234.3 L349.2 229.3 L349.3 231.5 L349.2 237.3 L349.3 241.7 L349.6 243.1 L350.0 245.8 L350.5 251.5 L351.1 256.1 L351.7 256.6 L352.0 255.4 L351.9 255.1 L351.6 256.2 L351.3 257.4 L351.1 258.3 L351.0 258.9 L350.9 259.2 L351.0 259.5 L351.3 259.5 L351.8 259.7 L352.3 261.1 L352.7 264.0 L353.0 268.0 L353.0 272.0 L352.9 274.1 L352.8 273.8 L352.8 272.8 L353.0 274.3 L353.7 279.1 L354.7 282.0 L355.4 279.1 L355.2 274.4 L354.7 271.0 L354.7 267.3 L355.2 262.9 L355.6 259.5 L355.9 258.2 L355.9 259.3 L355.9 262.0 L356.0 265.4 L356.1 268.5 L356.4 270.5 L356.7 270.9 L357.0 269.6 L357.2 267.6 L357.2 265.7 L357.3 264.7 L357.3 264.9 L357.3 266.1 L357.4 267.6 L357.5 268.8 L357.6 269.3 L357.6 269.4 L357.6 269.3 L357.6 269.8 L357.7 271.1 L357.9 273.7 L358.2 277.1 L358.5 280.2 L358.8 281.7 L359.2 281.8 L359.7 281.3 L360.5 278.7 L360.9 271.4 L360.6 261.9 L359.7 258.2 L359.3 263.3 L360.2 271.0 L361.9 277.3 L362.7 283.9 L361.8 287.2 L361.3 285.2 L362.7 287.0 L363.8 296.0 L363.2 302.2 L363.0 297.3 L363.8 281.8 L364.4 264.6 L364.7 253.3 L365.0 240.5 L365.7 227.2 L366.1 222.9 L366.3 223.0 L366.4 223.1 L366.5 224.6 L366.5 228.4 L366.5 233.6 L366.5 239.3 L366.6 244.3 L366.7 247.3 L367.0 247.1 L367.5 243.8 L368.0 240.7 L368.0 240.3 L367.8 238.8 L367.8 231.7 L368.0 222.9 L368.5 219.1 L369.3 220.9 L370.0 223.9 L370.4 225.5 L370.4 225.5 L370.4 225.1 L370.3 225.5 L370.2 227.9 L370.2 232.9 L370.4 239.6 L370.6 244.9 L371.1 245.0 L371.8 239.7 L372.1 231.5 L372.1 224.3 L372.3 221.7 L372.7 223.0 L372.9 224.0 L372.9 223.2 L372.8 221.8 L372.9 221.6 L373.1 223.5 L373.4 227.3 L373.7 232.3 L374.0 237.3 L374.2 240.6 L374.2 240.4 L374.1 237.1 L373.9 231.9 L373.7 226.2 L373.6 221.2 L373.7 218.3 L374.3 218.7 L375.4 222.7 L376.3 230.6 L376.3 243.2 L375.8 258.2 L376.0 270.1 L376.7 279.3 L377.4 287.1 L377.7 294.6 L377.9 304.3 L378.1 309.1 L378.7 300.5 L379.4 281.9 L379.6 265.8 L379.1 258.3 L378.7 254.0 L379.2 245.6 L380.1 234.4 L380.7 229.0 L380.8 234.4 L380.9 247.9 L381.1 262.8 L381.4 272.7 L381.4 274.9 L381.3 271.0 L381.4 265.4 L381.9 261.6 L382.5 258.6 L382.7 253.1 L382.7 243.3 L382.8 231.9 L382.9 223.3 L382.9 217.5 L383.3 210.5 L384.7 205.0 L385.7 205.0 L384.5 205.0 L383.9 214.0 L385.5 226.2 L386.3 232.3 L385.9 230.3 L385.9 230.6 L386.8 239.8 L387.8 249.8 L388.2 248.7 L388.2 242.8 L388.2 246.0 L388.5 257.3 L388.7 264.9 L388.5 264.4 L388.3 259.5 L388.3 254.0 L388.5 248.8 L388.8 243.9 L389.3 239.8 L389.9 237.0 L390.6 236.4 L390.9 239.7 L390.6 247.4 L390.7 250.2 L390.3 253.6 L391.7 270.2 L393.0 278.0 L393.3 285.5 L393.5 291.2 L393.3 295.7 L393.5 299.0 L394.1 296.9 L394.6 289.2 L394.7 281.0 L394.8 276.8 L395.3 275.7 L396.0 274.3 L396.3 270.6 L396.2 265.7 L395.8 262.2 L395.6 261.6 L395.9 263.9 L396.3 268.3 L396.7 273.0 L397.0 275.8 L397.4 274.5 L397.8 268.8 L398.1 261.0 L398.0 254.0 L397.7 248.8 L397.4 244.2 L397.3 238.6 L397.5 231.7 L398.1 225.7 L398.7 224.2 L399.2 228.8 L399.5 237.9 L399.8 246.6 L400.0 250.9 L400.2 250.8 L400.2 249.1 L400.0 248.1 L399.8 248.2 L399.7 249.3 L399.6 250.5 L399.5 251.8 L399.5 253.2 L399.5 255.1 L399.6 257.8 L399.8 261.7 L400.0 266.7 L400.1 272.3 L400.3 278.4 L400.5 284.8 L400.7 290.6 L401.1 294.7 L401.5 295.8 L402.1 292.7 L402.3 286.6 L402.2 284.5 L401.8 285.2 L402.1 272.1 L402.7 255.2 L402.9 253.4 L403.8 252.3 L404.8 245.7 L405.0 240.9 L405.0 240.3 L404.9 243.3 L404.8 248.1 L404.9 252.2 L405.1 254.9 L405.3 257.4 L405.4 259.0" stroke="#000" stroke-width="0.55" stroke-dasharray="2.2 1.3 0.6 1.3"/>
</g>
<rect x="183.5" y="185.6" width="222.00" height="139.30" fill="none" stroke="#000" stroke-width="0.65"/>
<path d="M183.50 324.9 v-3.0 M183.50 185.6 v3.0 M239.00 324.9 v-1.5 M239.00 185.6 v1.5 M294.50 324.9 v-3.0 M294.50 185.6 v3.0 M350.00 324.9 v-1.5 M350.00 185.6 v1.5 M405.50 324.9 v-3.0 M405.50 185.6 v3.0 M183.5 324.90 h3.0 M405.5 324.90 h-3.0 M183.5 307.49 h1.5 M405.5 307.49 h-1.5 M183.5 290.07 h3.0 M405.5 290.07 h-3.0 M183.5 272.66 h1.5 M405.5 272.66 h-1.5 M183.5 255.25 h3.0 M405.5 255.25 h-3.0 M183.5 237.84 h1.5 M405.5 237.84 h-1.5 M183.5 220.42 h3.0 M405.5 220.42 h-3.0 M183.5 203.01 h1.5 M405.5 203.01 h-1.5 M183.5 185.60 h3.0 M405.5 185.60 h-3.0" stroke="#000" stroke-width="0.75" fill="none"/>
<text x="180.50" y="326.80" font-size="6.0" text-anchor="end" stroke="#000" stroke-width="0.18">&#8722;0.04</text>
<text x="180.50" y="291.97" font-size="6.0" text-anchor="end" stroke="#000" stroke-width="0.18">&#8722;0.02</text>
<text x="180.50" y="257.15" font-size="6.0" text-anchor="end" stroke="#000" stroke-width="0.18">0.00</text>
<text x="180.50" y="222.32" font-size="6.0" text-anchor="end" stroke="#000" stroke-width="0.18">0.02</text>
<text x="180.50" y="187.50" font-size="6.0" text-anchor="end" stroke="#000" stroke-width="0.18">0.04</text>
<text x="183.50" y="332.70" font-size="6.0" text-anchor="middle" stroke="#000" stroke-width="0.18">0</text>
<text x="294.50" y="332.70" font-size="6.0" text-anchor="middle" stroke="#000" stroke-width="0.18">5</text>
<text x="405.50" y="332.70" font-size="6.0" text-anchor="middle" stroke="#000" stroke-width="0.18">10</text>
<text x="295.95" y="342.60" font-size="7.2" text-anchor="middle" stroke="#000" stroke-width="0.2">Time (s)</text>
<text x="293.70" y="352.30" font-size="10" text-anchor="middle" stroke="#000" stroke-width="0.2"><tspan font-size="8">(</tspan><tspan dx="0.3">c</tspan><tspan font-size="8" dx="0.3">)</tspan></text>
<text x="0" y="0" font-size="7.9" text-anchor="middle" transform="translate(160.8,253.70) rotate(-90)" textLength="105.6" lengthAdjust="spacing" stroke="#000" stroke-width="0.2">Suspension Working Space (m)</text>
<rect x="320.4" y="190.1" width="22.30000000000001" height="16.200000000000017" fill="#fff" stroke="#333" stroke-width="0.8"/>
<path d="M321.4 194.5 H334.9" stroke="#ff2020" stroke-width="0.8"/>
<path d="M321.4 201.9 H334.9" stroke="#000" stroke-width="0.8" stroke-dasharray="2.4 0.9 0.7 0.9"/>
<text x="335.0" y="196.4" font-size="6.1" text-anchor="start" stroke="#000" stroke-width="0.18">S3</text>
<text x="335.2" y="203.9" font-size="6.1" text-anchor="start" stroke="#000" stroke-width="0.18">T0</text>
</svg></body></html>
